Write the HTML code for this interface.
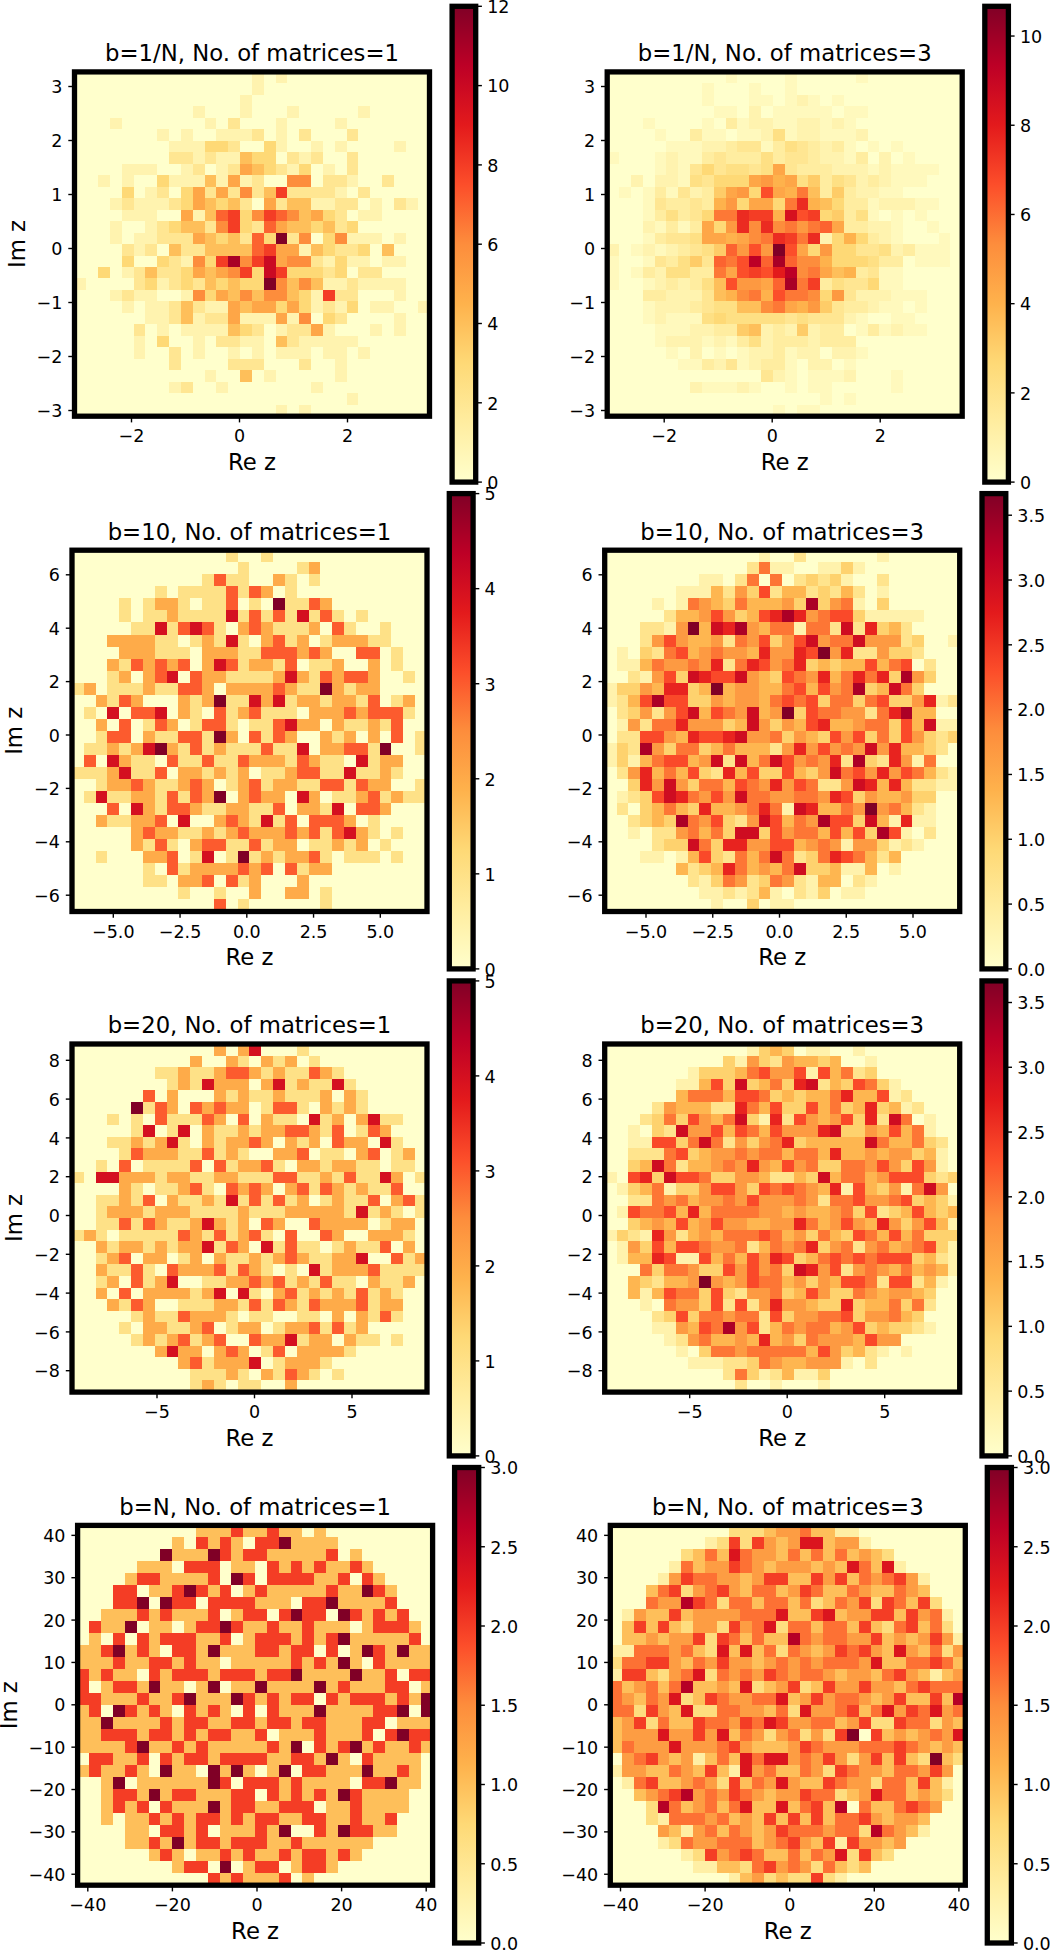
<!DOCTYPE html>
<html><head><meta charset="utf-8"><title>Eigenvalue density</title>
<style>html,body{margin:0;padding:0;background:#fff}svg{display:block}text{font-family:"DejaVu Sans","Liberation Sans",sans-serif;fill:#000}</style></head><body>
<svg width="1050" height="1950" viewBox="0 0 1050 1950">
<rect width="1050" height="1950" fill="#fff"/>
<defs><linearGradient id="g" x1="0" y1="1" x2="0" y2="0"><stop offset="0.000" stop-color="#ffffcc"/><stop offset="0.125" stop-color="#ffeda0"/><stop offset="0.250" stop-color="#fed976"/><stop offset="0.375" stop-color="#feb24c"/><stop offset="0.500" stop-color="#fd8d3c"/><stop offset="0.625" stop-color="#fc4e2a"/><stop offset="0.750" stop-color="#e31a1c"/><stop offset="0.875" stop-color="#bd0026"/><stop offset="1.000" stop-color="#800026"/></linearGradient></defs>
<g>
<rect x="74.50" y="71.90" width="355.00" height="344.30" fill="#ffffcc"/>
<g transform="translate(74.50 71.90) scale(11.8333 11.4767)" shape-rendering="crispEdges"><path fill="#fff3af" d="M15 0h1v1h-1zM17 0h1v1h-1zM15 1h1v1h-1zM14 2h1v1h-1zM10 3h1v1h-1zM14 3h1v1h-1zM18 3h1v1h-1zM24 3h1v1h-1zM3 4h1v1h-1zM11 4h1v1h-1zM17 4h1v1h-1zM22 4h1v1h-1zM7 5h1v1h-1zM9 5h1v1h-1zM12 5h3v1h-3zM17 5h1v1h-1zM8 6h3v1h-3zM17 6h1v1h-1zM20 6h1v1h-1zM22 6h1v1h-1zM27 6h1v1h-1zM10 7h1v1h-1zM12 7h2v1h-2zM19 7h1v1h-1zM4 8h3v1h-3zM9 8h1v1h-1zM12 8h1v1h-1zM18 8h1v1h-1zM21 8h1v1h-1zM2 9h1v1h-1zM4 9h1v1h-1zM8 9h3v1h-3zM12 9h1v1h-1zM14 9h1v1h-1zM23 9h1v1h-1zM6 10h1v1h-1zM22 10h1v1h-1zM3 11h1v1h-1zM5 11h3v1h-3zM20 11h2v1h-2zM25 11h1v1h-1zM28 11h1v1h-1zM4 12h3v1h-3zM10 12h1v1h-1zM24 12h2v1h-2zM3 13h1v1h-1zM6 13h1v1h-1zM3 14h1v1h-1zM5 14h2v1h-2zM23 14h3v1h-3zM27 14h1v1h-1zM5 15h1v1h-1zM19 15h1v1h-1zM9 16h1v1h-1zM21 16h1v1h-1zM23 16h2v1h-2zM26 16h2v1h-2zM4 17h1v1h-1zM0 18h1v1h-1zM7 18h1v1h-1zM21 18h2v1h-2zM24 18h4v1h-4zM3 19h1v1h-1zM5 19h2v1h-2zM9 19h1v1h-1zM20 19h1v1h-1zM27 19h1v1h-1zM4 20h1v1h-1zM6 20h2v1h-2zM11 20h2v1h-2zM20 20h1v1h-1zM22 20h1v1h-1zM25 20h2v1h-2zM29 20h1v1h-1zM6 21h2v1h-2zM10 21h1v1h-1zM14 21h3v1h-3zM18 21h1v1h-1zM27 21h1v1h-1zM7 22h1v1h-1zM9 22h4v1h-4zM17 22h1v1h-1zM21 22h1v1h-1zM25 22h1v1h-1zM27 22h1v1h-1zM5 23h1v1h-1zM10 23h1v1h-1zM14 23h2v1h-2zM19 23h5v1h-5zM5 24h1v1h-1zM10 24h1v1h-1zM13 24h1v1h-1zM15 24h1v1h-1zM17 24h3v1h-3zM21 24h2v1h-2zM24 24h1v1h-1zM22 25h1v1h-1zM11 26h1v1h-1zM16 26h1v1h-1zM22 26h1v1h-1zM8 27h1v1h-1zM12 27h1v1h-1zM20 27h1v1h-1zM23 28h1v1h-1zM17 29h1v1h-1zM19 29h1v1h-1z"/><path fill="#ffe692" d="M13 4h1v1h-1zM15 5h1v1h-1zM19 5h1v1h-1zM23 5h1v1h-1zM13 6h1v1h-1zM8 7h2v1h-2zM11 7h1v1h-1zM18 7h1v1h-1zM20 7h1v1h-1zM23 7h1v1h-1zM10 8h1v1h-1zM13 8h1v1h-1zM17 8h1v1h-1zM23 8h1v1h-1zM15 9h1v1h-1zM21 9h2v1h-2zM26 9h1v1h-1zM7 10h1v1h-1zM11 10h1v1h-1zM13 10h1v1h-1zM15 10h1v1h-1zM18 10h4v1h-4zM24 10h1v1h-1zM4 11h1v1h-1zM8 11h1v1h-1zM14 11h1v1h-1zM17 11h1v1h-1zM22 11h2v1h-2zM27 11h1v1h-1zM22 12h1v1h-1zM7 13h1v1h-1zM11 13h1v1h-1zM15 13h1v1h-1zM22 13h1v1h-1zM7 14h3v1h-3zM14 14h1v1h-1zM18 14h1v1h-1zM4 15h1v1h-1zM6 15h1v1h-1zM9 15h2v1h-2zM22 15h2v1h-2zM8 16h1v1h-1zM20 16h1v1h-1zM5 17h1v1h-1zM7 17h2v1h-2zM21 17h1v1h-1zM24 17h2v1h-2zM5 18h1v1h-1zM8 18h1v1h-1zM10 18h1v1h-1zM23 18h1v1h-1zM4 19h1v1h-1zM22 19h2v1h-2zM8 20h1v1h-1zM10 20h1v1h-1zM21 20h1v1h-1zM8 21h1v1h-1zM11 21h2v1h-2zM22 21h1v1h-1zM5 22h1v1h-1zM15 22h1v1h-1zM18 22h2v1h-2zM12 23h2v1h-2zM18 23h1v1h-1zM8 24h1v1h-1zM8 25h1v1h-1zM13 25h3v1h-3zM19 25h1v1h-1zM9 27h1v1h-1z"/><path fill="#fed976" d="M11 6h2v1h-2zM16 6h1v1h-1zM15 7h2v1h-2zM16 8h1v1h-1zM19 8h1v1h-1zM7 9h1v1h-1zM4 10h1v1h-1zM9 10h1v1h-1zM9 11h1v1h-1zM12 11h1v1h-1zM14 12h1v1h-1zM21 12h1v1h-1zM8 13h1v1h-1zM14 13h1v1h-1zM20 13h1v1h-1zM23 13h1v1h-1zM12 14h1v1h-1zM16 14h1v1h-1zM21 14h1v1h-1zM21 15h1v1h-1zM24 15h1v1h-1zM4 16h1v1h-1zM7 16h1v1h-1zM11 16h1v1h-1zM22 16h1v1h-1zM2 17h1v1h-1zM9 17h1v1h-1zM15 17h1v1h-1zM18 17h3v1h-3zM22 17h1v1h-1zM6 18h1v1h-1zM9 18h1v1h-1zM12 18h1v1h-1zM14 18h2v1h-2zM11 19h1v1h-1zM19 19h1v1h-1zM17 20h1v1h-1zM19 20h1v1h-1zM23 20h1v1h-1zM21 21h1v1h-1zM14 22h1v1h-1zM7 23h1v1h-1z"/><path fill="#febf5a" d="M14 7h1v1h-1zM15 8h1v1h-1zM11 9h1v1h-1zM16 10h1v1h-1zM11 11h1v1h-1zM13 11h1v1h-1zM18 11h2v1h-2zM11 12h1v1h-1zM19 12h1v1h-1zM9 13h2v1h-2zM18 13h2v1h-2zM21 13h1v1h-1zM11 14h1v1h-1zM13 14h1v1h-1zM8 15h1v1h-1zM11 15h4v1h-4zM20 15h1v1h-1zM26 15h1v1h-1zM6 17h1v1h-1zM11 17h1v1h-1zM11 18h1v1h-1zM13 18h1v1h-1zM18 18h1v1h-1zM20 18h1v1h-1zM13 19h1v1h-1zM15 19h1v1h-1zM18 19h1v1h-1zM9 20h1v1h-1zM14 20h1v1h-1zM9 21h1v1h-1zM13 22h1v1h-1zM17 23h1v1h-1zM14 26h1v1h-1z"/><path fill="#fea647" d="M14 8h1v1h-1zM13 9h1v1h-1zM10 10h1v1h-1zM12 10h1v1h-1zM10 11h1v1h-1zM16 11h1v1h-1zM9 12h1v1h-1zM20 12h1v1h-1zM17 13h1v1h-1zM10 14h1v1h-1zM17 15h2v1h-2zM17 16h1v1h-1zM10 17h1v1h-1zM12 17h1v1h-1zM12 19h1v1h-1zM13 20h1v1h-1zM15 20h2v1h-2zM18 20h1v1h-1zM13 21h1v1h-1zM17 21h1v1h-1zM20 22h1v1h-1z"/><path fill="#fd8d3c" d="M18 9h2v1h-2zM14 10h1v1h-1zM15 12h1v1h-1zM18 12h1v1h-1zM12 13h1v1h-1zM19 14h1v1h-1zM22 14h1v1h-1zM10 16h1v1h-1zM14 16h1v1h-1zM18 16h2v1h-2zM13 17h1v1h-1zM17 18h1v1h-1zM19 18h1v1h-1zM10 19h1v1h-1zM14 19h1v1h-1zM16 19h2v1h-2zM19 21h1v1h-1z"/><path fill="#fc6330" d="M12 12h1v1h-1zM17 12h1v1h-1zM16 13h1v1h-1zM15 14h1v1h-1zM15 15h1v1h-1z"/><path fill="#f43d25" d="M17 10h1v1h-1zM13 12h1v1h-1zM16 12h1v1h-1zM13 13h1v1h-1zM16 15h1v1h-1zM12 16h1v1h-1zM15 16h1v1h-1zM14 17h1v1h-1zM17 17h1v1h-1zM21 19h1v1h-1z"/><path fill="#ca0923" d="M16 16h1v1h-1zM16 17h1v1h-1z"/><path fill="#a90026" d="M13 16h1v1h-1z"/><path fill="#800026" d="M17 14h1v1h-1zM16 18h1v1h-1z"/></g>
<rect x="74.50" y="71.90" width="355.00" height="344.30" fill="none" stroke="#000" stroke-width="5.30"/>
<line x1="131.50" y1="416.20" x2="131.50" y2="422.40" stroke="#000" stroke-width="1.40"/><text x="131.50" y="442.20" font-size="17.50" text-anchor="middle">−2</text>
<line x1="239.50" y1="416.20" x2="239.50" y2="422.40" stroke="#000" stroke-width="1.40"/><text x="239.50" y="442.20" font-size="17.50" text-anchor="middle">0</text>
<line x1="347.50" y1="416.20" x2="347.50" y2="422.40" stroke="#000" stroke-width="1.40"/><text x="347.50" y="442.20" font-size="17.50" text-anchor="middle">2</text>
<line x1="68.30" y1="410.50" x2="74.50" y2="410.50" stroke="#000" stroke-width="1.40"/><text x="62.40" y="417.10" font-size="17.50" text-anchor="end">−3</text>
<line x1="68.30" y1="356.50" x2="74.50" y2="356.50" stroke="#000" stroke-width="1.40"/><text x="62.40" y="363.10" font-size="17.50" text-anchor="end">−2</text>
<line x1="68.30" y1="302.50" x2="74.50" y2="302.50" stroke="#000" stroke-width="1.40"/><text x="62.40" y="309.10" font-size="17.50" text-anchor="end">−1</text>
<line x1="68.30" y1="248.50" x2="74.50" y2="248.50" stroke="#000" stroke-width="1.40"/><text x="62.40" y="255.10" font-size="17.50" text-anchor="end">0</text>
<line x1="68.30" y1="194.50" x2="74.50" y2="194.50" stroke="#000" stroke-width="1.40"/><text x="62.40" y="201.10" font-size="17.50" text-anchor="end">1</text>
<line x1="68.30" y1="140.50" x2="74.50" y2="140.50" stroke="#000" stroke-width="1.40"/><text x="62.40" y="147.10" font-size="17.50" text-anchor="end">2</text>
<line x1="68.30" y1="86.50" x2="74.50" y2="86.50" stroke="#000" stroke-width="1.40"/><text x="62.40" y="93.10" font-size="17.50" text-anchor="end">3</text>
<text x="252.00" y="61.20" font-size="22.75" text-anchor="middle">b=1/N, No. of matrices=1</text>
<text x="252.00" y="469.70" font-size="22.75" text-anchor="middle">Re z</text>
<text transform="translate(24.50,244.05) rotate(-90)" font-size="22.75" text-anchor="middle">Im z</text>
<rect x="452.10" y="6.30" width="23.60" height="475.80" fill="url(#g)" stroke="#000" stroke-width="5.30"/>
<line x1="475.70" y1="482.10" x2="481.90" y2="482.10" stroke="#000" stroke-width="1.40"/><text x="487.20" y="488.90" font-size="17.50">0</text>
<line x1="475.70" y1="402.80" x2="481.90" y2="402.80" stroke="#000" stroke-width="1.40"/><text x="487.20" y="409.60" font-size="17.50">2</text>
<line x1="475.70" y1="323.50" x2="481.90" y2="323.50" stroke="#000" stroke-width="1.40"/><text x="487.20" y="330.30" font-size="17.50">4</text>
<line x1="475.70" y1="244.20" x2="481.90" y2="244.20" stroke="#000" stroke-width="1.40"/><text x="487.20" y="251.00" font-size="17.50">6</text>
<line x1="475.70" y1="164.90" x2="481.90" y2="164.90" stroke="#000" stroke-width="1.40"/><text x="487.20" y="171.70" font-size="17.50">8</text>
<line x1="475.70" y1="85.60" x2="481.90" y2="85.60" stroke="#000" stroke-width="1.40"/><text x="487.20" y="92.40" font-size="17.50">10</text>
<line x1="475.70" y1="6.30" x2="481.90" y2="6.30" stroke="#000" stroke-width="1.40"/><text x="487.20" y="13.10" font-size="17.50">12</text>
</g>
<g>
<rect x="607.20" y="71.90" width="355.00" height="344.30" fill="#ffffcc"/>
<g transform="translate(607.20 71.90) scale(11.8333 11.4767)" shape-rendering="crispEdges"><path fill="#fff9bd" d="M10 0h1v1h-1zM15 0h1v1h-1zM21 0h1v1h-1zM8 1h1v1h-1zM12 1h1v1h-1zM15 1h1v1h-1zM8 2h1v1h-1zM12 2h2v1h-2zM15 2h1v1h-1zM17 2h1v1h-1zM19 2h1v1h-1zM9 3h2v1h-2zM14 3h5v1h-5zM20 3h2v1h-2zM3 4h1v1h-1zM8 4h1v1h-1zM11 4h1v1h-1zM14 4h2v1h-2zM18 4h1v1h-1zM20 4h1v1h-1zM4 5h1v1h-1zM8 5h2v1h-2zM11 5h2v1h-2zM15 5h1v1h-1zM18 5h3v1h-3zM5 6h3v1h-3zM13 6h1v1h-1zM20 6h1v1h-1zM22 6h1v1h-1zM24 6h1v1h-1zM0 7h1v1h-1zM4 7h1v1h-1zM6 7h2v1h-2zM20 7h1v1h-1zM25 7h1v1h-1zM4 8h1v1h-1zM6 8h1v1h-1zM22 8h1v1h-1zM24 8h4v1h-4zM6 9h1v1h-1zM24 9h3v1h-3zM1 10h1v1h-1zM3 10h1v1h-1zM5 10h1v1h-1zM23 10h2v1h-2zM3 11h1v1h-1zM22 11h1v1h-1zM26 11h2v1h-2zM3 12h1v1h-1zM22 12h1v1h-1zM24 12h1v1h-1zM26 12h1v1h-1zM4 13h1v1h-1zM6 13h1v1h-1zM24 13h1v1h-1zM27 13h1v1h-1zM3 14h1v1h-1zM24 14h1v1h-1zM28 14h1v1h-1zM2 15h1v1h-1zM4 15h1v1h-1zM26 15h3v1h-3zM0 16h1v1h-1zM3 16h1v1h-1zM26 16h3v1h-3zM0 17h1v1h-1zM2 17h1v1h-1zM23 17h2v1h-2zM0 18h1v1h-1zM3 18h1v1h-1zM23 18h2v1h-2zM24 19h3v1h-3zM3 20h1v1h-1zM23 20h2v1h-2zM26 20h1v1h-1zM3 21h1v1h-1zM5 21h3v1h-3zM21 21h1v1h-1zM24 21h2v1h-2zM4 22h3v1h-3zM21 22h1v1h-1zM23 22h1v1h-1zM25 22h2v1h-2zM4 23h1v1h-1zM8 23h1v1h-1zM10 23h1v1h-1zM5 24h1v1h-1zM9 24h1v1h-1zM11 24h1v1h-1zM15 24h1v1h-1zM21 24h1v1h-1zM6 25h2v1h-2zM11 25h1v1h-1zM15 25h1v1h-1zM20 25h1v1h-1zM15 26h1v1h-1zM17 26h3v1h-3zM24 26h1v1h-1zM8 27h3v1h-3zM12 27h1v1h-1zM15 27h1v1h-1zM17 27h2v1h-2zM24 27h1v1h-1zM18 28h1v1h-1zM20 28h1v1h-1zM14 29h1v1h-1zM16 29h2v1h-2z"/><path fill="#fff3af" d="M16 2h1v1h-1zM12 3h1v1h-1zM12 4h2v1h-2zM16 4h2v1h-2zM19 4h1v1h-1zM13 5h1v1h-1zM16 5h2v1h-2zM21 5h1v1h-1zM8 6h2v1h-2zM18 6h1v1h-1zM5 7h1v1h-1zM18 7h2v1h-2zM23 7h1v1h-1zM5 8h1v1h-1zM19 8h3v1h-3zM23 8h1v1h-1zM2 9h1v1h-1zM4 9h2v1h-2zM21 9h1v1h-1zM23 9h1v1h-1zM7 10h1v1h-1zM21 10h2v1h-2zM23 11h3v1h-3zM3 13h1v1h-1zM22 13h2v1h-2zM18 14h1v1h-1zM23 14h1v1h-1zM0 15h1v1h-1zM3 15h1v1h-1zM5 15h1v1h-1zM24 15h1v1h-1zM4 17h1v1h-1zM4 18h1v1h-1zM6 18h1v1h-1zM5 19h3v1h-3zM21 19h3v1h-3zM4 20h3v1h-3zM22 20h1v1h-1zM4 21h1v1h-1zM20 21h1v1h-1zM7 22h2v1h-2zM13 22h1v1h-1zM15 22h1v1h-1zM17 22h1v1h-1zM24 22h1v1h-1zM5 23h3v1h-3zM9 23h1v1h-1zM13 23h1v1h-1zM17 23h1v1h-1zM7 24h1v1h-1zM12 24h2v1h-2zM16 24h2v1h-2zM19 24h2v1h-2zM9 25h1v1h-1zM12 25h1v1h-1zM17 25h2v1h-2zM14 26h1v1h-1zM20 26h1v1h-1zM7 27h1v1h-1zM11 27h1v1h-1z"/><path fill="#ffeda0" d="M10 4h1v1h-1zM7 5h1v1h-1zM10 6h1v1h-1zM14 6h1v1h-1zM17 6h1v1h-1zM19 6h1v1h-1zM8 7h1v1h-1zM10 7h3v1h-3zM14 7h1v1h-1zM17 7h1v1h-1zM21 7h1v1h-1zM16 8h3v1h-3zM18 9h1v1h-1zM22 9h1v1h-1zM4 10h1v1h-1zM8 10h1v1h-1zM18 10h1v1h-1zM20 10h1v1h-1zM5 11h2v1h-2zM8 11h1v1h-1zM20 11h2v1h-2zM4 12h1v1h-1zM6 12h1v1h-1zM20 12h1v1h-1zM5 13h1v1h-1zM7 13h1v1h-1zM20 13h2v1h-2zM4 14h1v1h-1zM22 14h1v1h-1zM6 15h1v1h-1zM25 15h1v1h-1zM5 16h1v1h-1zM23 16h2v1h-2zM3 17h1v1h-1zM7 17h2v1h-2zM21 17h1v1h-1zM5 18h1v1h-1zM7 18h1v1h-1zM18 18h1v1h-1zM3 19h2v1h-2zM7 20h1v1h-1zM20 20h2v1h-2zM9 22h2v1h-2zM14 22h1v1h-1zM18 22h2v1h-2zM22 22h1v1h-1zM11 23h1v1h-1zM14 23h3v1h-3zM18 23h3v1h-3zM14 24h1v1h-1zM8 25h1v1h-1zM13 25h2v1h-2z"/><path fill="#ffe692" d="M11 6h2v1h-2zM16 6h1v1h-1zM9 7h1v1h-1zM15 7h2v1h-2zM7 8h1v1h-1zM9 8h1v1h-1zM12 8h1v1h-1zM15 8h1v1h-1zM8 9h1v1h-1zM20 9h1v1h-1zM6 10h1v1h-1zM4 11h1v1h-1zM7 11h1v1h-1zM7 12h1v1h-1zM5 14h2v1h-2zM7 15h1v1h-1zM21 15h2v1h-2zM4 16h1v1h-1zM8 16h1v1h-1zM22 17h1v1h-1zM20 18h2v1h-2zM8 19h1v1h-1zM20 19h1v1h-1zM8 20h1v1h-1zM19 20h1v1h-1zM15 21h1v1h-1zM17 21h3v1h-3zM10 25h1v1h-1zM13 26h1v1h-1z"/><path fill="#fee084" d="M14 5h1v1h-1zM15 6h1v1h-1zM13 7h1v1h-1zM10 8h2v1h-2zM13 8h1v1h-1zM7 9h1v1h-1zM16 9h1v1h-1zM19 9h1v1h-1zM5 12h1v1h-1zM21 12h1v1h-1zM7 14h1v1h-1zM8 15h1v1h-1zM23 15h1v1h-1zM6 16h1v1h-1zM22 16h1v1h-1zM5 17h2v1h-2zM8 18h1v1h-1zM19 18h1v1h-1zM9 20h2v1h-2zM8 21h1v1h-1zM10 21h5v1h-5zM16 21h1v1h-1zM12 23h1v1h-1z"/><path fill="#fed976" d="M8 8h1v1h-1zM9 9h3v1h-3zM12 10h1v1h-1zM11 11h1v1h-1zM14 11h1v1h-1zM19 11h1v1h-1zM8 12h1v1h-1zM18 12h1v1h-1zM9 13h1v1h-1zM19 14h1v1h-1zM21 14h1v1h-1zM17 15h1v1h-1zM19 15h2v1h-2zM19 16h3v1h-3zM22 18h1v1h-1zM18 19h1v1h-1zM9 21h1v1h-1z"/><path fill="#fecc68" d="M17 9h1v1h-1zM9 10h1v1h-1zM19 10h1v1h-1zM19 12h1v1h-1zM9 15h1v1h-1zM7 16h1v1h-1zM18 20h1v1h-1zM11 22h1v1h-1zM16 22h1v1h-1z"/><path fill="#febf5a" d="M17 10h1v1h-1zM18 11h1v1h-1zM19 17h1v1h-1zM9 18h1v1h-1zM9 19h1v1h-1zM11 20h2v1h-2zM12 22h1v1h-1z"/><path fill="#feb24c" d="M14 9h1v1h-1zM15 10h1v1h-1zM9 11h1v1h-1zM17 11h1v1h-1zM14 12h1v1h-1zM10 14h1v1h-1zM20 14h1v1h-1zM18 16h1v1h-1zM20 17h1v1h-1zM10 19h1v1h-1zM13 19h1v1h-1zM16 20h1v1h-1z"/><path fill="#fea647" d="M14 8h1v1h-1zM12 9h1v1h-1zM15 9h1v1h-1zM10 10h1v1h-1zM14 10h1v1h-1zM12 11h2v1h-2zM8 13h1v1h-1zM19 13h1v1h-1zM8 14h2v1h-2zM11 14h1v1h-1zM16 15h1v1h-1zM10 17h1v1h-1zM18 17h1v1h-1zM13 18h1v1h-1zM15 20h1v1h-1z"/><path fill="#fd9941" d="M13 9h1v1h-1zM11 10h1v1h-1zM10 11h1v1h-1zM10 13h1v1h-1zM16 13h1v1h-1zM11 15h1v1h-1zM13 15h1v1h-1zM18 15h1v1h-1zM11 18h2v1h-2zM19 19h1v1h-1zM17 20h1v1h-1z"/><path fill="#fd8d3c" d="M12 13h1v1h-1zM14 13h1v1h-1zM12 14h1v1h-1zM16 16h2v1h-2zM16 17h1v1h-1zM11 19h1v1h-1zM17 19h1v1h-1zM13 20h1v1h-1z"/><path fill="#fd7836" d="M16 10h1v1h-1zM15 11h1v1h-1zM9 12h2v1h-2zM15 13h1v1h-1zM17 13h1v1h-1zM13 14h1v1h-1zM16 14h1v1h-1zM10 16h1v1h-1zM9 17h1v1h-1zM17 17h1v1h-1zM16 18h1v1h-1zM12 19h1v1h-1zM15 19h2v1h-2zM14 20h1v1h-1z"/><path fill="#fc6330" d="M18 13h1v1h-1zM10 15h1v1h-1zM9 16h1v1h-1zM13 16h1v1h-1zM15 16h1v1h-1zM14 18h1v1h-1z"/><path fill="#fc4e2a" d="M13 10h1v1h-1zM16 12h1v1h-1zM12 15h1v1h-1zM15 15h1v1h-1zM11 16h1v1h-1zM11 17h1v1h-1zM13 17h1v1h-1zM10 18h1v1h-1zM14 19h1v1h-1z"/><path fill="#f43d25" d="M12 12h2v1h-2zM17 12h1v1h-1zM15 14h1v1h-1zM12 17h1v1h-1zM17 18h1v1h-1z"/><path fill="#eb2b21" d="M16 11h1v1h-1zM11 12h1v1h-1zM11 13h1v1h-1zM13 13h1v1h-1zM14 14h1v1h-1zM17 14h1v1h-1z"/><path fill="#e31a1c" d="M14 17h1v1h-1z"/><path fill="#d6111f" d="M15 12h1v1h-1z"/><path fill="#bd0026" d="M12 16h1v1h-1zM15 17h1v1h-1z"/><path fill="#a90026" d="M14 16h1v1h-1zM15 18h1v1h-1z"/><path fill="#800026" d="M14 15h1v1h-1z"/></g>
<rect x="607.20" y="71.90" width="355.00" height="344.30" fill="none" stroke="#000" stroke-width="5.30"/>
<line x1="664.20" y1="416.20" x2="664.20" y2="422.40" stroke="#000" stroke-width="1.40"/><text x="664.20" y="442.20" font-size="17.50" text-anchor="middle">−2</text>
<line x1="772.20" y1="416.20" x2="772.20" y2="422.40" stroke="#000" stroke-width="1.40"/><text x="772.20" y="442.20" font-size="17.50" text-anchor="middle">0</text>
<line x1="880.20" y1="416.20" x2="880.20" y2="422.40" stroke="#000" stroke-width="1.40"/><text x="880.20" y="442.20" font-size="17.50" text-anchor="middle">2</text>
<line x1="601.00" y1="410.50" x2="607.20" y2="410.50" stroke="#000" stroke-width="1.40"/><text x="595.10" y="417.10" font-size="17.50" text-anchor="end">−3</text>
<line x1="601.00" y1="356.50" x2="607.20" y2="356.50" stroke="#000" stroke-width="1.40"/><text x="595.10" y="363.10" font-size="17.50" text-anchor="end">−2</text>
<line x1="601.00" y1="302.50" x2="607.20" y2="302.50" stroke="#000" stroke-width="1.40"/><text x="595.10" y="309.10" font-size="17.50" text-anchor="end">−1</text>
<line x1="601.00" y1="248.50" x2="607.20" y2="248.50" stroke="#000" stroke-width="1.40"/><text x="595.10" y="255.10" font-size="17.50" text-anchor="end">0</text>
<line x1="601.00" y1="194.50" x2="607.20" y2="194.50" stroke="#000" stroke-width="1.40"/><text x="595.10" y="201.10" font-size="17.50" text-anchor="end">1</text>
<line x1="601.00" y1="140.50" x2="607.20" y2="140.50" stroke="#000" stroke-width="1.40"/><text x="595.10" y="147.10" font-size="17.50" text-anchor="end">2</text>
<line x1="601.00" y1="86.50" x2="607.20" y2="86.50" stroke="#000" stroke-width="1.40"/><text x="595.10" y="93.10" font-size="17.50" text-anchor="end">3</text>
<text x="784.70" y="61.20" font-size="22.75" text-anchor="middle">b=1/N, No. of matrices=3</text>
<text x="784.70" y="469.70" font-size="22.75" text-anchor="middle">Re z</text>
<rect x="984.80" y="6.30" width="23.60" height="475.80" fill="url(#g)" stroke="#000" stroke-width="5.30"/>
<line x1="1008.40" y1="482.10" x2="1014.60" y2="482.10" stroke="#000" stroke-width="1.40"/><text x="1019.90" y="488.90" font-size="17.50">0</text>
<line x1="1008.40" y1="392.89" x2="1014.60" y2="392.89" stroke="#000" stroke-width="1.40"/><text x="1019.90" y="399.69" font-size="17.50">2</text>
<line x1="1008.40" y1="303.68" x2="1014.60" y2="303.68" stroke="#000" stroke-width="1.40"/><text x="1019.90" y="310.48" font-size="17.50">4</text>
<line x1="1008.40" y1="214.46" x2="1014.60" y2="214.46" stroke="#000" stroke-width="1.40"/><text x="1019.90" y="221.26" font-size="17.50">6</text>
<line x1="1008.40" y1="125.25" x2="1014.60" y2="125.25" stroke="#000" stroke-width="1.40"/><text x="1019.90" y="132.05" font-size="17.50">8</text>
<line x1="1008.40" y1="36.04" x2="1014.60" y2="36.04" stroke="#000" stroke-width="1.40"/><text x="1019.90" y="42.84" font-size="17.50">10</text>
</g>
<g>
<rect x="72.00" y="550.20" width="355.00" height="361.30" fill="#ffffcc"/>
<g transform="translate(72.00 550.20) scale(11.8333 12.0433)" shape-rendering="crispEdges"><path fill="#fee187" d="M13 0h1v1h-1zM16 0h1v1h-1zM14 1h1v1h-1zM19 1h1v1h-1zM11 2h1v1h-1zM13 2h2v1h-2zM18 2h1v1h-1zM20 2h1v1h-1zM7 3h1v1h-1zM9 3h4v1h-4zM14 3h1v1h-1zM18 3h1v1h-1zM4 4h1v1h-1zM6 4h1v1h-1zM9 4h1v1h-1zM11 4h2v1h-2zM15 4h1v1h-1zM18 4h2v1h-2zM4 5h1v1h-1zM6 5h2v1h-2zM9 5h4v1h-4zM14 5h1v1h-1zM16 5h1v1h-1zM18 5h1v1h-1zM20 5h1v1h-1zM22 5h1v1h-1zM24 5h1v1h-1zM5 6h2v1h-2zM8 6h1v1h-1zM12 6h1v1h-1zM17 6h3v1h-3zM23 6h1v1h-1zM26 6h1v1h-1zM7 7h2v1h-2zM10 7h1v1h-1zM12 7h1v1h-1zM14 7h1v1h-1zM18 7h1v1h-1zM21 7h1v1h-1zM25 7h2v1h-2zM7 8h3v1h-3zM14 8h2v1h-2zM27 8h1v1h-1zM4 9h1v1h-1zM14 9h1v1h-1zM17 9h1v1h-1zM20 9h2v1h-2zM27 9h1v1h-1zM3 10h1v1h-1zM13 10h4v1h-4zM20 10h1v1h-1zM28 10h1v1h-1zM0 11h1v1h-1zM3 11h3v1h-3zM7 11h2v1h-2zM19 11h2v1h-2zM23 11h1v1h-1zM3 12h1v1h-1zM10 12h1v1h-1zM13 12h2v1h-2zM18 12h1v1h-1zM21 12h1v1h-1zM24 12h1v1h-1zM27 12h1v1h-1zM1 13h1v1h-1zM10 13h1v1h-1zM13 13h1v1h-1zM16 13h3v1h-3zM28 13h1v1h-1zM6 14h1v1h-1zM10 14h1v1h-1zM13 14h1v1h-1zM15 14h2v1h-2zM23 14h2v1h-2zM26 14h1v1h-1zM2 15h1v1h-1zM7 15h2v1h-2zM11 15h1v1h-1zM16 15h1v1h-1zM22 15h1v1h-1zM29 15h1v1h-1zM1 16h2v1h-2zM4 16h1v1h-1zM9 16h1v1h-1zM11 16h1v1h-1zM13 16h3v1h-3zM17 16h2v1h-2zM25 16h1v1h-1zM29 16h1v1h-1zM5 17h2v1h-2zM9 17h2v1h-2zM12 17h2v1h-2zM18 17h1v1h-1zM21 17h2v1h-2zM25 17h1v1h-1zM0 18h3v1h-3zM5 18h2v1h-2zM11 18h1v1h-1zM13 18h1v1h-1zM16 18h2v1h-2zM21 18h2v1h-2zM24 18h2v1h-2zM27 18h1v1h-1zM2 19h1v1h-1zM7 19h2v1h-2zM13 19h1v1h-1zM16 19h1v1h-1zM19 19h2v1h-2zM23 19h1v1h-1zM29 19h1v1h-1zM1 20h1v1h-1zM3 20h2v1h-2zM7 20h1v1h-1zM9 20h1v1h-1zM22 20h2v1h-2zM26 20h1v1h-1zM28 20h2v1h-2zM7 21h1v1h-1zM11 21h2v1h-2zM15 21h2v1h-2zM21 21h1v1h-1zM3 22h2v1h-2zM15 22h1v1h-1zM17 22h1v1h-1zM25 22h1v1h-1zM9 23h2v1h-2zM12 23h1v1h-1zM21 23h1v1h-1zM25 23h1v1h-1zM27 23h1v1h-1zM6 24h1v1h-1zM8 24h1v1h-1zM13 24h2v1h-2zM16 24h1v1h-1zM20 24h2v1h-2zM23 24h1v1h-1zM26 24h1v1h-1zM2 25h1v1h-1zM10 25h1v1h-1zM13 25h1v1h-1zM15 25h1v1h-1zM17 25h1v1h-1zM21 25h1v1h-1zM23 25h3v1h-3zM27 25h1v1h-1zM6 26h1v1h-1zM9 26h1v1h-1zM19 26h1v1h-1zM6 27h2v1h-2zM14 27h1v1h-1zM9 28h1v1h-1zM12 28h1v1h-1zM21 28h1v1h-1zM14 29h1v1h-1zM21 29h1v1h-1z"/><path fill="#feab49" d="M20 1h1v1h-1zM17 2h1v1h-1zM16 3h1v1h-1zM7 4h2v1h-2zM21 4h1v1h-1zM8 5h1v1h-1zM14 6h1v1h-1zM16 6h1v1h-1zM20 6h1v1h-1zM3 7h4v1h-4zM11 7h1v1h-1zM16 7h1v1h-1zM19 7h1v1h-1zM22 7h3v1h-3zM4 8h3v1h-3zM11 8h3v1h-3zM19 8h1v1h-1zM21 8h1v1h-1zM3 9h1v1h-1zM6 9h1v1h-1zM8 9h1v1h-1zM11 9h1v1h-1zM15 9h2v1h-2zM22 9h1v1h-1zM25 9h1v1h-1zM4 10h1v1h-1zM6 10h1v1h-1zM11 10h2v1h-2zM17 10h1v1h-1zM19 10h1v1h-1zM22 10h1v1h-1zM25 10h1v1h-1zM1 11h1v1h-1zM6 11h1v1h-1zM11 11h1v1h-1zM13 11h4v1h-4zM18 11h1v1h-1zM22 11h1v1h-1zM24 11h2v1h-2zM2 12h1v1h-1zM5 12h1v1h-1zM9 12h1v1h-1zM11 12h1v1h-1zM16 12h1v1h-1zM19 12h2v1h-2zM22 12h2v1h-2zM28 12h1v1h-1zM9 13h1v1h-1zM14 13h1v1h-1zM20 13h3v1h-3zM24 13h1v1h-1zM2 14h1v1h-1zM8 14h1v1h-1zM19 14h2v1h-2zM22 14h1v1h-1zM25 14h1v1h-1zM6 15h1v1h-1zM13 15h1v1h-1zM18 15h1v1h-1zM21 15h1v1h-1zM23 15h1v1h-1zM25 15h1v1h-1zM3 16h1v1h-1zM5 16h1v1h-1zM8 16h1v1h-1zM12 16h1v1h-1zM21 16h2v1h-2zM4 17h1v1h-1zM15 17h3v1h-3zM20 17h1v1h-1zM26 17h2v1h-2zM3 18h1v1h-1zM9 18h2v1h-2zM12 18h1v1h-1zM14 18h1v1h-1zM18 18h1v1h-1zM26 18h1v1h-1zM3 19h2v1h-2zM6 19h1v1h-1zM9 19h1v1h-1zM11 19h1v1h-1zM14 19h1v1h-1zM17 19h2v1h-2zM25 19h2v1h-2zM5 20h2v1h-2zM11 20h1v1h-1zM14 20h1v1h-1zM16 20h2v1h-2zM20 20h1v1h-1zM24 20h1v1h-1zM27 20h1v1h-1zM6 21h1v1h-1zM10 21h1v1h-1zM13 21h2v1h-2zM19 21h2v1h-2zM26 21h1v1h-1zM2 22h1v1h-1zM5 22h2v1h-2zM12 22h1v1h-1zM14 22h1v1h-1zM23 22h1v1h-1zM5 23h1v1h-1zM7 23h2v1h-2zM11 23h1v1h-1zM13 23h1v1h-1zM15 23h3v1h-3zM19 23h1v1h-1zM24 23h1v1h-1zM5 24h1v1h-1zM10 24h1v1h-1zM17 24h2v1h-2zM22 24h1v1h-1zM24 24h1v1h-1zM6 25h2v1h-2zM16 25h1v1h-1zM18 25h2v1h-2zM10 26h4v1h-4zM15 26h1v1h-1zM20 26h2v1h-2zM9 27h2v1h-2zM15 27h1v1h-1zM19 27h1v1h-1zM15 28h1v1h-1zM18 28h2v1h-2z"/><path fill="#fc5b2e" d="M12 2h1v1h-1zM13 3h1v1h-1zM15 3h1v1h-1zM13 4h1v1h-1zM20 4h1v1h-1zM15 5h1v1h-1zM17 5h1v1h-1zM21 5h1v1h-1zM9 6h1v1h-1zM11 6h1v1h-1zM15 6h1v1h-1zM22 6h1v1h-1zM17 7h1v1h-1zM16 8h3v1h-3zM20 8h1v1h-1zM24 8h2v1h-2zM5 9h1v1h-1zM7 9h1v1h-1zM9 9h1v1h-1zM13 9h1v1h-1zM18 9h1v1h-1zM7 10h1v1h-1zM10 10h1v1h-1zM21 10h1v1h-1zM23 10h2v1h-2zM9 11h2v1h-2zM17 11h1v1h-1zM4 12h1v1h-1zM25 12h1v1h-1zM5 13h2v1h-2zM12 13h1v1h-1zM15 13h1v1h-1zM23 13h1v1h-1zM25 13h3v1h-3zM4 14h1v1h-1zM7 14h1v1h-1zM11 14h2v1h-2zM17 14h1v1h-1zM27 14h1v1h-1zM3 15h2v1h-2zM9 15h2v1h-2zM15 15h1v1h-1zM17 15h1v1h-1zM27 15h1v1h-1zM10 16h1v1h-1zM16 16h1v1h-1zM23 16h2v1h-2zM1 17h1v1h-1zM8 17h1v1h-1zM11 17h1v1h-1zM14 17h1v1h-1zM19 17h1v1h-1zM7 18h1v1h-1zM19 18h2v1h-2zM5 19h1v1h-1zM10 19h1v1h-1zM15 19h1v1h-1zM21 19h2v1h-2zM24 19h1v1h-1zM8 20h1v1h-1zM10 20h1v1h-1zM15 20h1v1h-1zM25 20h1v1h-1zM3 21h1v1h-1zM8 21h2v1h-2zM17 21h1v1h-1zM24 21h2v1h-2zM7 22h1v1h-1zM13 22h1v1h-1zM18 22h1v1h-1zM20 22h3v1h-3zM6 23h1v1h-1zM14 23h1v1h-1zM18 23h1v1h-1zM20 23h1v1h-1zM22 23h1v1h-1zM7 24h1v1h-1zM11 24h2v1h-2zM15 24h1v1h-1zM8 25h1v1h-1zM20 25h1v1h-1zM8 26h1v1h-1zM14 26h1v1h-1zM16 26h1v1h-1zM18 26h1v1h-1zM11 27h1v1h-1zM13 27h1v1h-1zM12 29h1v1h-1z"/><path fill="#d41020" d="M13 5h1v1h-1zM19 5h1v1h-1zM7 6h1v1h-1zM10 6h1v1h-1zM13 7h1v1h-1zM12 9h1v1h-1zM8 10h1v1h-1zM18 10h1v1h-1zM15 12h1v1h-1zM17 12h1v1h-1zM3 13h1v1h-1zM7 13h1v1h-1zM18 14h1v1h-1zM6 16h1v1h-1zM19 16h1v1h-1zM3 17h1v1h-1zM24 17h1v1h-1zM4 18h1v1h-1zM23 18h1v1h-1zM2 20h1v1h-1zM19 20h1v1h-1zM5 21h1v1h-1zM22 21h1v1h-1zM9 22h1v1h-1zM16 22h1v1h-1zM23 23h1v1h-1zM11 25h1v1h-1z"/><path fill="#800026" d="M17 4h1v1h-1zM21 11h1v1h-1zM12 12h1v1h-1zM12 15h1v1h-1zM7 16h1v1h-1zM26 16h1v1h-1zM12 20h1v1h-1zM14 25h1v1h-1z"/></g>
<rect x="72.00" y="550.20" width="355.00" height="361.30" fill="none" stroke="#000" stroke-width="5.30"/>
<line x1="113.30" y1="911.50" x2="113.30" y2="917.70" stroke="#000" stroke-width="1.40"/><text x="113.30" y="937.50" font-size="17.50" text-anchor="middle">−5.0</text>
<line x1="180.05" y1="911.50" x2="180.05" y2="917.70" stroke="#000" stroke-width="1.40"/><text x="180.05" y="937.50" font-size="17.50" text-anchor="middle">−2.5</text>
<line x1="246.80" y1="911.50" x2="246.80" y2="917.70" stroke="#000" stroke-width="1.40"/><text x="246.80" y="937.50" font-size="17.50" text-anchor="middle">0.0</text>
<line x1="313.55" y1="911.50" x2="313.55" y2="917.70" stroke="#000" stroke-width="1.40"/><text x="313.55" y="937.50" font-size="17.50" text-anchor="middle">2.5</text>
<line x1="380.30" y1="911.50" x2="380.30" y2="917.70" stroke="#000" stroke-width="1.40"/><text x="380.30" y="937.50" font-size="17.50" text-anchor="middle">5.0</text>
<line x1="65.80" y1="895.20" x2="72.00" y2="895.20" stroke="#000" stroke-width="1.40"/><text x="59.90" y="901.80" font-size="17.50" text-anchor="end">−6</text>
<line x1="65.80" y1="841.80" x2="72.00" y2="841.80" stroke="#000" stroke-width="1.40"/><text x="59.90" y="848.40" font-size="17.50" text-anchor="end">−4</text>
<line x1="65.80" y1="788.40" x2="72.00" y2="788.40" stroke="#000" stroke-width="1.40"/><text x="59.90" y="795.00" font-size="17.50" text-anchor="end">−2</text>
<line x1="65.80" y1="735.00" x2="72.00" y2="735.00" stroke="#000" stroke-width="1.40"/><text x="59.90" y="741.60" font-size="17.50" text-anchor="end">0</text>
<line x1="65.80" y1="681.60" x2="72.00" y2="681.60" stroke="#000" stroke-width="1.40"/><text x="59.90" y="688.20" font-size="17.50" text-anchor="end">2</text>
<line x1="65.80" y1="628.20" x2="72.00" y2="628.20" stroke="#000" stroke-width="1.40"/><text x="59.90" y="634.80" font-size="17.50" text-anchor="end">4</text>
<line x1="65.80" y1="574.80" x2="72.00" y2="574.80" stroke="#000" stroke-width="1.40"/><text x="59.90" y="581.40" font-size="17.50" text-anchor="end">6</text>
<text x="249.50" y="539.50" font-size="22.75" text-anchor="middle">b=10, No. of matrices=1</text>
<text x="249.50" y="965.00" font-size="22.75" text-anchor="middle">Re z</text>
<text transform="translate(21.70,730.85) rotate(-90)" font-size="22.75" text-anchor="middle">Im z</text>
<rect x="449.30" y="493.60" width="23.80" height="475.30" fill="url(#g)" stroke="#000" stroke-width="5.30"/>
<line x1="473.10" y1="968.90" x2="479.30" y2="968.90" stroke="#000" stroke-width="1.40"/><text x="484.60" y="975.70" font-size="17.50">0</text>
<line x1="473.10" y1="873.84" x2="479.30" y2="873.84" stroke="#000" stroke-width="1.40"/><text x="484.60" y="880.64" font-size="17.50">1</text>
<line x1="473.10" y1="778.78" x2="479.30" y2="778.78" stroke="#000" stroke-width="1.40"/><text x="484.60" y="785.58" font-size="17.50">2</text>
<line x1="473.10" y1="683.72" x2="479.30" y2="683.72" stroke="#000" stroke-width="1.40"/><text x="484.60" y="690.52" font-size="17.50">3</text>
<line x1="473.10" y1="588.66" x2="479.30" y2="588.66" stroke="#000" stroke-width="1.40"/><text x="484.60" y="595.46" font-size="17.50">4</text>
<line x1="473.10" y1="493.60" x2="479.30" y2="493.60" stroke="#000" stroke-width="1.40"/><text x="484.60" y="500.40" font-size="17.50">5</text>
</g>
<g>
<rect x="604.70" y="550.20" width="355.00" height="361.30" fill="#ffffcc"/>
<g transform="translate(604.70 550.20) scale(11.8333 12.0433)" shape-rendering="crispEdges"><path fill="#fff2ac" d="M13 0h1v1h-1zM23 0h1v1h-1zM14 1h2v1h-2zM18 1h2v1h-2zM21 1h1v1h-1zM8 2h2v1h-2zM20 2h1v1h-1zM6 3h3v1h-3zM23 3h1v1h-1zM4 4h1v1h-1zM6 4h1v1h-1zM21 4h1v1h-1zM22 5h5v1h-5zM5 6h1v1h-1zM16 6h1v1h-1zM29 7h1v1h-1zM1 8h1v1h-1zM1 9h2v1h-2zM3 10h1v1h-1zM0 11h1v1h-1zM0 12h1v1h-1zM28 12h1v1h-1zM1 14h1v1h-1zM28 14h2v1h-2zM0 16h1v1h-1zM0 17h1v1h-1zM2 17h1v1h-1zM26 17h1v1h-1zM29 18h1v1h-1zM28 19h2v1h-2zM1 20h1v1h-1zM15 21h1v1h-1zM27 21h1v1h-1zM24 22h1v1h-1zM26 22h2v1h-2zM2 23h1v1h-1zM25 23h1v1h-1zM20 24h1v1h-1zM24 24h1v1h-1zM26 24h1v1h-1zM3 25h2v1h-2zM6 25h1v1h-1zM20 26h2v1h-2zM24 26h1v1h-1zM8 27h1v1h-1zM17 27h1v1h-1zM22 27h1v1h-1zM8 28h2v1h-2zM11 28h1v1h-1zM14 28h1v1h-1zM17 28h1v1h-1zM20 28h2v1h-2zM9 29h1v1h-1zM14 29h2v1h-2z"/><path fill="#ffe48d" d="M16 0h1v1h-1zM12 1h1v1h-1zM11 2h1v1h-1zM16 2h1v1h-1zM18 2h1v1h-1zM23 2h1v1h-1zM10 3h1v1h-1zM14 3h1v1h-1zM17 3h1v1h-1zM19 3h1v1h-1zM21 3h1v1h-1zM5 5h1v1h-1zM3 6h2v1h-2zM19 6h1v1h-1zM21 6h1v1h-1zM25 6h1v1h-1zM3 7h1v1h-1zM10 7h1v1h-1zM25 7h1v1h-1zM4 8h1v1h-1zM21 8h2v1h-2zM26 8h1v1h-1zM10 9h1v1h-1zM27 9h1v1h-1zM2 10h1v1h-1zM1 12h1v1h-1zM29 12h1v1h-1zM1 13h1v1h-1zM4 13h1v1h-1zM22 13h1v1h-1zM3 14h1v1h-1zM1 15h2v1h-2zM28 15h1v1h-1zM2 16h1v1h-1zM14 16h1v1h-1zM28 16h1v1h-1zM10 17h1v1h-1zM20 17h1v1h-1zM23 17h1v1h-1zM1 18h1v1h-1zM9 18h1v1h-1zM28 18h1v1h-1zM18 19h2v1h-2zM26 19h2v1h-2zM2 20h1v1h-1zM1 21h1v1h-1zM26 21h1v1h-1zM2 22h1v1h-1zM11 22h1v1h-1zM4 23h2v1h-2zM27 23h1v1h-1zM4 24h1v1h-1zM25 24h1v1h-1zM10 25h1v1h-1zM16 25h1v1h-1zM23 25h1v1h-1zM7 26h1v1h-1zM7 27h1v1h-1zM12 27h1v1h-1zM16 27h1v1h-1zM21 27h1v1h-1zM10 28h1v1h-1zM12 28h1v1h-1zM16 28h1v1h-1z"/><path fill="#fed26e" d="M20 1h1v1h-1zM17 2h1v1h-1zM19 2h1v1h-1zM12 3h1v1h-1zM18 3h1v1h-1zM10 4h1v1h-1zM16 4h1v1h-1zM18 4h1v1h-1zM23 4h1v1h-1zM11 5h1v1h-1zM21 5h1v1h-1zM23 6h1v1h-1zM14 7h1v1h-1zM26 7h1v1h-1zM3 8h1v1h-1zM24 8h2v1h-2zM17 9h1v1h-1zM19 9h1v1h-1zM6 10h1v1h-1zM14 10h1v1h-1zM24 10h1v1h-1zM27 10h1v1h-1zM1 11h2v1h-2zM7 11h1v1h-1zM22 11h1v1h-1zM26 11h1v1h-1zM7 12h2v1h-2zM18 12h1v1h-1zM21 12h1v1h-1zM24 12h2v1h-2zM2 13h1v1h-1zM16 13h1v1h-1zM10 14h1v1h-1zM14 14h1v1h-1zM24 14h1v1h-1zM15 15h1v1h-1zM18 15h1v1h-1zM22 15h1v1h-1zM24 15h1v1h-1zM27 15h1v1h-1zM29 15h1v1h-1zM1 16h1v1h-1zM5 16h1v1h-1zM8 16h1v1h-1zM27 16h1v1h-1zM1 17h1v1h-1zM22 17h1v1h-1zM8 18h1v1h-1zM13 18h2v1h-2zM17 18h1v1h-1zM2 19h1v1h-1zM7 19h1v1h-1zM3 20h1v1h-1zM21 20h1v1h-1zM26 20h2v1h-2zM3 21h1v1h-1zM7 21h1v1h-1zM3 22h1v1h-1zM5 22h1v1h-1zM10 22h1v1h-1zM21 22h1v1h-1zM10 23h1v1h-1zM13 23h1v1h-1zM22 23h1v1h-1zM5 24h2v1h-2zM9 24h1v1h-1zM23 24h1v1h-1zM9 25h1v1h-1zM17 25h1v1h-1zM8 26h1v1h-1zM17 26h2v1h-2zM9 27h1v1h-1zM13 27h1v1h-1zM18 28h1v1h-1zM12 29h1v1h-1z"/><path fill="#feb650" d="M9 3h1v1h-1zM15 3h2v1h-2zM20 3h1v1h-1zM9 4h1v1h-1zM12 4h3v1h-3zM6 5h2v1h-2zM12 5h1v1h-1zM8 6h1v1h-1zM13 6h1v1h-1zM24 6h1v1h-1zM7 7h2v1h-2zM7 8h1v1h-1zM12 8h1v1h-1zM3 9h1v1h-1zM18 9h1v1h-1zM20 9h2v1h-2zM23 9h1v1h-1zM13 10h1v1h-1zM19 10h1v1h-1zM4 11h1v1h-1zM8 11h1v1h-1zM10 11h1v1h-1zM13 11h2v1h-2zM17 11h1v1h-1zM23 11h1v1h-1zM2 12h1v1h-1zM10 12h1v1h-1zM13 12h1v1h-1zM8 13h1v1h-1zM13 13h1v1h-1zM26 13h2v1h-2zM11 14h1v1h-1zM16 14h1v1h-1zM19 14h2v1h-2zM26 14h1v1h-1zM6 15h1v1h-1zM17 15h1v1h-1zM9 16h1v1h-1zM11 16h3v1h-3zM25 16h2v1h-2zM3 17h1v1h-1zM7 17h1v1h-1zM12 17h1v1h-1zM4 18h1v1h-1zM6 18h1v1h-1zM11 18h1v1h-1zM16 18h1v1h-1zM27 18h1v1h-1zM10 19h1v1h-1zM23 19h1v1h-1zM25 19h1v1h-1zM23 20h2v1h-2zM4 21h1v1h-1zM6 21h1v1h-1zM9 21h2v1h-2zM18 21h2v1h-2zM25 21h1v1h-1zM4 22h1v1h-1zM15 22h1v1h-1zM23 22h1v1h-1zM8 23h1v1h-1zM18 23h1v1h-1zM20 23h1v1h-1zM16 24h1v1h-1zM7 25h1v1h-1zM12 25h1v1h-1zM22 25h1v1h-1zM24 25h1v1h-1zM6 26h1v1h-1zM9 26h1v1h-1zM12 26h1v1h-1zM14 26h1v1h-1zM19 26h1v1h-1zM22 26h1v1h-1zM18 27h2v1h-2zM13 28h1v1h-1z"/><path fill="#fd9a42" d="M11 3h1v1h-1zM8 4h1v1h-1zM15 4h1v1h-1zM19 4h1v1h-1zM8 5h1v1h-1zM10 5h1v1h-1zM17 5h1v1h-1zM6 6h1v1h-1zM12 6h1v1h-1zM4 7h1v1h-1zM6 7h1v1h-1zM9 7h1v1h-1zM12 7h1v1h-1zM15 7h1v1h-1zM18 7h1v1h-1zM22 7h3v1h-3zM8 8h1v1h-1zM10 8h2v1h-2zM14 8h2v1h-2zM19 8h1v1h-1zM23 8h1v1h-1zM5 9h2v1h-2zM8 9h1v1h-1zM14 9h1v1h-1zM4 10h1v1h-1zM12 10h1v1h-1zM17 10h1v1h-1zM26 10h1v1h-1zM3 11h1v1h-1zM11 11h2v1h-2zM19 11h1v1h-1zM9 12h1v1h-1zM11 12h2v1h-2zM26 12h1v1h-1zM3 13h1v1h-1zM5 13h1v1h-1zM11 13h1v1h-1zM14 13h1v1h-1zM20 13h2v1h-2zM2 14h1v1h-1zM7 14h3v1h-3zM13 14h1v1h-1zM15 14h1v1h-1zM21 14h1v1h-1zM5 15h1v1h-1zM12 15h2v1h-2zM16 15h1v1h-1zM20 15h1v1h-1zM26 15h1v1h-1zM4 16h1v1h-1zM15 16h1v1h-1zM17 16h1v1h-1zM19 16h1v1h-1zM21 16h1v1h-1zM23 16h1v1h-1zM8 17h1v1h-1zM16 17h1v1h-1zM18 17h1v1h-1zM25 17h1v1h-1zM2 18h1v1h-1zM18 18h1v1h-1zM22 18h1v1h-1zM24 18h1v1h-1zM4 19h1v1h-1zM6 19h1v1h-1zM13 19h1v1h-1zM15 19h1v1h-1zM20 19h1v1h-1zM8 20h1v1h-1zM10 20h1v1h-1zM14 20h2v1h-2zM18 20h1v1h-1zM22 20h1v1h-1zM25 20h1v1h-1zM11 21h1v1h-1zM21 21h1v1h-1zM23 21h1v1h-1zM8 22h1v1h-1zM12 22h1v1h-1zM17 22h1v1h-1zM6 23h1v1h-1zM15 23h1v1h-1zM12 24h2v1h-2zM17 24h1v1h-1zM19 24h1v1h-1zM21 24h2v1h-2zM13 26h1v1h-1zM11 27h1v1h-1zM15 27h1v1h-1z"/><path fill="#fd7635" d="M13 1h1v1h-1zM12 2h1v1h-1zM14 2h1v1h-1zM7 4h1v1h-1zM11 4h1v1h-1zM20 4h1v1h-1zM18 5h1v1h-1zM14 6h2v1h-2zM17 6h2v1h-2zM11 7h1v1h-1zM19 7h2v1h-2zM5 8h1v1h-1zM9 8h1v1h-1zM4 9h1v1h-1zM7 9h1v1h-1zM11 9h1v1h-1zM15 9h1v1h-1zM24 9h1v1h-1zM16 10h1v1h-1zM20 10h1v1h-1zM22 10h1v1h-1zM15 11h1v1h-1zM20 11h1v1h-1zM25 11h1v1h-1zM14 12h1v1h-1zM16 12h1v1h-1zM19 12h2v1h-2zM22 12h1v1h-1zM10 13h1v1h-1zM18 13h2v1h-2zM23 13h1v1h-1zM4 14h2v1h-2zM22 14h2v1h-2zM14 15h1v1h-1zM23 15h1v1h-1zM6 16h2v1h-2zM10 16h1v1h-1zM20 16h1v1h-1zM4 17h1v1h-1zM13 17h1v1h-1zM17 17h1v1h-1zM27 17h1v1h-1zM5 18h1v1h-1zM20 18h1v1h-1zM26 18h1v1h-1zM8 19h2v1h-2zM12 19h1v1h-1zM17 19h1v1h-1zM7 20h1v1h-1zM12 20h2v1h-2zM16 20h2v1h-2zM5 21h1v1h-1zM12 21h1v1h-1zM14 21h1v1h-1zM20 21h1v1h-1zM24 21h1v1h-1zM7 22h1v1h-1zM16 22h1v1h-1zM7 23h1v1h-1zM9 23h1v1h-1zM16 23h2v1h-2zM8 24h1v1h-1zM18 24h1v1h-1zM11 25h1v1h-1zM13 25h1v1h-1zM15 25h1v1h-1zM18 25h1v1h-1zM21 25h1v1h-1zM11 26h1v1h-1zM15 26h1v1h-1zM10 27h1v1h-1zM14 27h1v1h-1z"/><path fill="#fa4929" d="M13 3h1v1h-1zM9 5h1v1h-1zM13 5h1v1h-1zM19 5h2v1h-2zM5 7h1v1h-1zM13 7h1v1h-1zM16 7h1v1h-1zM6 8h1v1h-1zM17 8h1v1h-1zM13 9h1v1h-1zM22 9h1v1h-1zM25 9h1v1h-1zM5 10h1v1h-1zM9 10h2v1h-2zM15 10h1v1h-1zM16 11h1v1h-1zM18 11h1v1h-1zM3 12h1v1h-1zM5 12h2v1h-2zM15 12h1v1h-1zM17 12h1v1h-1zM23 12h1v1h-1zM6 13h1v1h-1zM9 13h1v1h-1zM17 13h1v1h-1zM17 14h1v1h-1zM25 14h1v1h-1zM3 15h2v1h-2zM8 15h2v1h-2zM19 15h1v1h-1zM21 15h1v1h-1zM25 15h1v1h-1zM18 16h1v1h-1zM5 17h2v1h-2zM15 17h1v1h-1zM7 18h1v1h-1zM12 18h1v1h-1zM15 18h1v1h-1zM21 18h1v1h-1zM25 18h1v1h-1zM11 19h1v1h-1zM16 19h1v1h-1zM4 20h1v1h-1zM9 20h1v1h-1zM20 20h1v1h-1zM9 22h1v1h-1zM14 22h1v1h-1zM19 22h2v1h-2zM14 23h1v1h-1zM19 23h1v1h-1zM21 23h1v1h-1zM24 23h1v1h-1zM14 24h2v1h-2zM8 25h1v1h-1zM20 25h1v1h-1z"/><path fill="#e8231f" d="M14 5h1v1h-1zM16 5h1v1h-1zM10 6h1v1h-1zM22 6h1v1h-1zM13 8h1v1h-1zM16 8h1v1h-1zM20 8h1v1h-1zM9 9h1v1h-1zM12 9h1v1h-1zM16 9h1v1h-1zM8 10h1v1h-1zM18 10h1v1h-1zM21 10h1v1h-1zM23 10h1v1h-1zM5 11h2v1h-2zM27 12h1v1h-1zM24 13h1v1h-1zM6 14h1v1h-1zM18 14h1v1h-1zM7 15h1v1h-1zM10 15h1v1h-1zM16 16h1v1h-1zM24 16h1v1h-1zM19 17h1v1h-1zM24 17h1v1h-1zM3 18h1v1h-1zM10 18h1v1h-1zM23 18h1v1h-1zM3 19h1v1h-1zM14 19h1v1h-1zM22 19h1v1h-1zM24 19h1v1h-1zM6 20h1v1h-1zM19 20h1v1h-1zM8 21h1v1h-1zM13 21h1v1h-1zM17 21h1v1h-1zM25 22h1v1h-1zM10 24h2v1h-2zM19 25h1v1h-1zM10 26h1v1h-1z"/><path fill="#ce0c21" d="M9 6h1v1h-1zM20 6h1v1h-1zM17 7h1v1h-1zM21 7h1v1h-1zM7 10h1v1h-1zM11 10h1v1h-1zM24 11h1v1h-1zM7 13h1v1h-1zM12 13h1v1h-1zM12 14h1v1h-1zM27 14h1v1h-1zM11 15h1v1h-1zM22 16h1v1h-1zM9 17h1v1h-1zM11 17h1v1h-1zM14 17h1v1h-1zM19 18h1v1h-1zM5 19h1v1h-1zM21 19h1v1h-1zM5 20h1v1h-1zM11 20h1v1h-1zM16 21h1v1h-1zM13 22h1v1h-1zM22 22h1v1h-1zM11 23h2v1h-2zM7 24h1v1h-1zM14 25h1v1h-1zM16 26h1v1h-1z"/><path fill="#ac0026" d="M17 4h1v1h-1zM15 5h1v1h-1zM11 6h1v1h-1zM25 10h1v1h-1zM21 11h1v1h-1zM4 12h1v1h-1zM25 13h1v1h-1zM3 16h1v1h-1zM21 17h1v1h-1zM6 22h1v1h-1zM18 22h1v1h-1zM23 23h1v1h-1z"/><path fill="#800026" d="M7 6h1v1h-1zM18 8h1v1h-1zM9 11h1v1h-1zM15 13h1v1h-1zM22 21h1v1h-1z"/></g>
<rect x="604.70" y="550.20" width="355.00" height="361.30" fill="none" stroke="#000" stroke-width="5.30"/>
<line x1="646.00" y1="911.50" x2="646.00" y2="917.70" stroke="#000" stroke-width="1.40"/><text x="646.00" y="937.50" font-size="17.50" text-anchor="middle">−5.0</text>
<line x1="712.75" y1="911.50" x2="712.75" y2="917.70" stroke="#000" stroke-width="1.40"/><text x="712.75" y="937.50" font-size="17.50" text-anchor="middle">−2.5</text>
<line x1="779.50" y1="911.50" x2="779.50" y2="917.70" stroke="#000" stroke-width="1.40"/><text x="779.50" y="937.50" font-size="17.50" text-anchor="middle">0.0</text>
<line x1="846.25" y1="911.50" x2="846.25" y2="917.70" stroke="#000" stroke-width="1.40"/><text x="846.25" y="937.50" font-size="17.50" text-anchor="middle">2.5</text>
<line x1="913.00" y1="911.50" x2="913.00" y2="917.70" stroke="#000" stroke-width="1.40"/><text x="913.00" y="937.50" font-size="17.50" text-anchor="middle">5.0</text>
<line x1="598.50" y1="895.20" x2="604.70" y2="895.20" stroke="#000" stroke-width="1.40"/><text x="592.60" y="901.80" font-size="17.50" text-anchor="end">−6</text>
<line x1="598.50" y1="841.80" x2="604.70" y2="841.80" stroke="#000" stroke-width="1.40"/><text x="592.60" y="848.40" font-size="17.50" text-anchor="end">−4</text>
<line x1="598.50" y1="788.40" x2="604.70" y2="788.40" stroke="#000" stroke-width="1.40"/><text x="592.60" y="795.00" font-size="17.50" text-anchor="end">−2</text>
<line x1="598.50" y1="735.00" x2="604.70" y2="735.00" stroke="#000" stroke-width="1.40"/><text x="592.60" y="741.60" font-size="17.50" text-anchor="end">0</text>
<line x1="598.50" y1="681.60" x2="604.70" y2="681.60" stroke="#000" stroke-width="1.40"/><text x="592.60" y="688.20" font-size="17.50" text-anchor="end">2</text>
<line x1="598.50" y1="628.20" x2="604.70" y2="628.20" stroke="#000" stroke-width="1.40"/><text x="592.60" y="634.80" font-size="17.50" text-anchor="end">4</text>
<line x1="598.50" y1="574.80" x2="604.70" y2="574.80" stroke="#000" stroke-width="1.40"/><text x="592.60" y="581.40" font-size="17.50" text-anchor="end">6</text>
<text x="782.20" y="539.50" font-size="22.75" text-anchor="middle">b=10, No. of matrices=3</text>
<text x="782.20" y="965.00" font-size="22.75" text-anchor="middle">Re z</text>
<rect x="982.00" y="493.60" width="23.80" height="475.30" fill="url(#g)" stroke="#000" stroke-width="5.30"/>
<line x1="1005.80" y1="968.90" x2="1012.00" y2="968.90" stroke="#000" stroke-width="1.40"/><text x="1017.30" y="975.70" font-size="17.50">0.0</text>
<line x1="1005.80" y1="904.09" x2="1012.00" y2="904.09" stroke="#000" stroke-width="1.40"/><text x="1017.30" y="910.89" font-size="17.50">0.5</text>
<line x1="1005.80" y1="839.27" x2="1012.00" y2="839.27" stroke="#000" stroke-width="1.40"/><text x="1017.30" y="846.07" font-size="17.50">1.0</text>
<line x1="1005.80" y1="774.46" x2="1012.00" y2="774.46" stroke="#000" stroke-width="1.40"/><text x="1017.30" y="781.26" font-size="17.50">1.5</text>
<line x1="1005.80" y1="709.65" x2="1012.00" y2="709.65" stroke="#000" stroke-width="1.40"/><text x="1017.30" y="716.45" font-size="17.50">2.0</text>
<line x1="1005.80" y1="644.83" x2="1012.00" y2="644.83" stroke="#000" stroke-width="1.40"/><text x="1017.30" y="651.63" font-size="17.50">2.5</text>
<line x1="1005.80" y1="580.02" x2="1012.00" y2="580.02" stroke="#000" stroke-width="1.40"/><text x="1017.30" y="586.82" font-size="17.50">3.0</text>
<line x1="1005.80" y1="515.21" x2="1012.00" y2="515.21" stroke="#000" stroke-width="1.40"/><text x="1017.30" y="522.01" font-size="17.50">3.5</text>
</g>
<g>
<rect x="72.00" y="1044.00" width="355.00" height="348.10" fill="#ffffcc"/>
<g transform="translate(72.00 1044.00) scale(11.8333 11.6033)" shape-rendering="crispEdges"><path fill="#fee187" d="M19 0h1v1h-1zM14 1h1v1h-1zM17 1h1v1h-1zM20 1h1v1h-1zM7 2h2v1h-2zM10 2h2v1h-2zM16 2h1v1h-1zM18 2h2v1h-2zM22 2h1v1h-1zM8 3h1v1h-1zM10 3h1v1h-1zM18 3h1v1h-1zM20 3h2v1h-2zM23 3h1v1h-1zM13 4h1v1h-1zM15 4h2v1h-2zM18 4h3v1h-3zM24 4h1v1h-1zM6 5h1v1h-1zM16 5h1v1h-1zM19 5h1v1h-1zM22 5h1v1h-1zM24 5h1v1h-1zM3 6h1v1h-1zM5 6h1v1h-1zM8 6h3v1h-3zM17 6h2v1h-2zM21 6h1v1h-1zM26 6h2v1h-2zM5 7h1v1h-1zM8 7h1v1h-1zM12 7h2v1h-2zM15 7h1v1h-1zM21 7h1v1h-1zM24 7h1v1h-1zM3 8h2v1h-2zM6 8h1v1h-1zM9 8h1v1h-1zM12 8h1v1h-1zM19 8h1v1h-1zM27 8h1v1h-1zM4 9h1v1h-1zM9 9h2v1h-2zM12 9h1v1h-1zM14 9h1v1h-1zM21 9h2v1h-2zM27 9h1v1h-1zM2 10h1v1h-1zM6 10h4v1h-4zM13 10h1v1h-1zM17 10h1v1h-1zM21 10h1v1h-1zM24 10h2v1h-2zM27 10h2v1h-2zM0 11h1v1h-1zM7 11h1v1h-1zM10 11h2v1h-2zM14 11h3v1h-3zM19 11h2v1h-2zM22 11h1v1h-1zM24 11h2v1h-2zM29 11h1v1h-1zM5 12h1v1h-1zM7 12h2v1h-2zM11 12h1v1h-1zM20 12h1v1h-1zM23 12h1v1h-1zM25 12h2v1h-2zM2 13h2v1h-2zM5 13h1v1h-1zM9 13h2v1h-2zM12 13h1v1h-1zM14 13h1v1h-1zM16 13h1v1h-1zM18 13h1v1h-1zM21 13h1v1h-1zM23 13h2v1h-2zM29 13h1v1h-1zM2 14h1v1h-1zM6 14h1v1h-1zM10 14h4v1h-4zM15 14h3v1h-3zM23 14h1v1h-1zM25 14h1v1h-1zM27 14h1v1h-1zM29 14h1v1h-1zM2 15h2v1h-2zM5 15h1v1h-1zM8 15h2v1h-2zM13 15h1v1h-1zM26 15h1v1h-1zM0 16h1v1h-1zM2 16h1v1h-1zM4 16h5v1h-5zM11 16h1v1h-1zM13 16h1v1h-1zM16 16h1v1h-1zM28 16h1v1h-1zM3 17h1v1h-1zM6 17h1v1h-1zM8 17h1v1h-1zM12 17h1v1h-1zM17 17h1v1h-1zM19 17h2v1h-2zM22 17h1v1h-1zM24 17h2v1h-2zM2 18h1v1h-1zM9 18h1v1h-1zM13 18h2v1h-2zM16 18h1v1h-1zM20 18h2v1h-2zM28 18h1v1h-1zM3 19h2v1h-2zM6 19h1v1h-1zM13 19h1v1h-1zM16 19h1v1h-1zM18 19h1v1h-1zM21 19h1v1h-1zM26 19h4v1h-4zM2 20h1v1h-1zM6 20h1v1h-1zM11 20h2v1h-2zM18 20h1v1h-1zM20 20h1v1h-1zM22 20h2v1h-2zM26 20h2v1h-2zM10 21h1v1h-1zM15 21h1v1h-1zM19 21h1v1h-1zM21 21h1v1h-1zM23 21h1v1h-1zM25 21h1v1h-1zM27 21h1v1h-1zM4 22h1v1h-1zM9 22h3v1h-3zM14 22h1v1h-1zM16 22h1v1h-1zM19 22h1v1h-1zM25 22h1v1h-1zM5 23h1v1h-1zM7 23h2v1h-2zM13 23h1v1h-1zM15 23h2v1h-2zM19 23h2v1h-2zM25 23h1v1h-1zM27 23h1v1h-1zM4 24h1v1h-1zM8 24h2v1h-2zM13 24h1v1h-1zM17 24h1v1h-1zM21 24h1v1h-1zM23 24h1v1h-1zM5 25h1v1h-1zM7 25h1v1h-1zM10 25h1v1h-1zM19 25h1v1h-1zM24 25h2v1h-2zM27 25h1v1h-1zM16 26h1v1h-1zM23 26h1v1h-1zM11 27h1v1h-1zM17 27h1v1h-1zM21 27h1v1h-1zM10 28h3v1h-3zM14 28h1v1h-1zM17 28h1v1h-1zM20 28h1v1h-1zM22 28h1v1h-1zM10 29h1v1h-1zM12 29h1v1h-1zM14 29h2v1h-2z"/><path fill="#feab49" d="M12 0h1v1h-1zM14 0h1v1h-1zM10 1h1v1h-1zM13 1h1v1h-1zM16 1h1v1h-1zM18 1h1v1h-1zM9 2h1v1h-1zM12 2h1v1h-1zM15 2h1v1h-1zM17 2h1v1h-1zM21 2h1v1h-1zM9 3h1v1h-1zM12 3h3v1h-3zM16 3h1v1h-1zM19 3h1v1h-1zM8 4h1v1h-1zM12 4h1v1h-1zM14 4h1v1h-1zM17 4h1v1h-1zM21 4h1v1h-1zM23 4h1v1h-1zM8 5h1v1h-1zM11 5h1v1h-1zM13 5h2v1h-2zM21 5h1v1h-1zM23 5h1v1h-1zM12 6h1v1h-1zM16 6h1v1h-1zM22 6h1v1h-1zM24 6h1v1h-1zM11 7h1v1h-1zM14 7h1v1h-1zM16 7h2v1h-2zM20 7h1v1h-1zM26 7h1v1h-1zM5 8h1v1h-1zM7 8h1v1h-1zM11 8h1v1h-1zM13 8h2v1h-2zM16 8h1v1h-1zM18 8h1v1h-1zM20 8h1v1h-1zM23 8h2v1h-2zM6 9h3v1h-3zM13 9h1v1h-1zM17 9h2v1h-2zM24 9h1v1h-1zM28 9h1v1h-1zM14 10h2v1h-2zM19 10h2v1h-2zM22 10h2v1h-2zM4 11h3v1h-3zM8 11h2v1h-2zM12 11h2v1h-2zM21 11h1v1h-1zM27 11h1v1h-1zM4 12h1v1h-1zM9 12h1v1h-1zM14 12h1v1h-1zM16 12h1v1h-1zM18 12h1v1h-1zM22 12h1v1h-1zM24 12h1v1h-1zM4 13h1v1h-1zM8 13h1v1h-1zM11 13h1v1h-1zM19 13h1v1h-1zM22 13h1v1h-1zM27 13h1v1h-1zM3 14h3v1h-3zM7 14h3v1h-3zM14 14h1v1h-1zM18 14h5v1h-5zM26 14h1v1h-1zM7 15h1v1h-1zM10 15h1v1h-1zM12 15h1v1h-1zM14 15h1v1h-1zM17 15h1v1h-1zM21 15h4v1h-4zM27 15h2v1h-2zM1 16h1v1h-1zM10 16h1v1h-1zM14 16h1v1h-1zM22 16h1v1h-1zM25 16h3v1h-3zM2 17h1v1h-1zM4 17h2v1h-2zM7 17h1v1h-1zM9 17h2v1h-2zM14 17h1v1h-1zM23 17h1v1h-1zM28 17h1v1h-1zM3 18h1v1h-1zM6 18h2v1h-2zM10 18h1v1h-1zM12 18h1v1h-1zM15 18h1v1h-1zM17 18h1v1h-1zM19 18h1v1h-1zM22 18h2v1h-2zM29 18h1v1h-1zM2 19h1v1h-1zM9 19h3v1h-3zM15 19h1v1h-1zM22 19h3v1h-3zM3 20h1v1h-1zM7 20h1v1h-1zM13 20h2v1h-2zM16 20h1v1h-1zM19 20h1v1h-1zM25 20h1v1h-1zM28 20h1v1h-1zM2 21h1v1h-1zM6 21h4v1h-4zM11 21h1v1h-1zM17 21h1v1h-1zM20 21h1v1h-1zM22 21h1v1h-1zM26 21h1v1h-1zM3 22h1v1h-1zM6 22h1v1h-1zM12 22h2v1h-2zM18 22h1v1h-1zM21 22h3v1h-3zM26 22h2v1h-2zM6 23h1v1h-1zM10 23h3v1h-3zM22 23h1v1h-1zM24 23h1v1h-1zM6 24h2v1h-2zM10 24h1v1h-1zM14 24h2v1h-2zM18 24h2v1h-2zM24 24h1v1h-1zM6 25h1v1h-1zM8 25h1v1h-1zM11 25h1v1h-1zM16 25h2v1h-2zM20 25h2v1h-2zM23 25h1v1h-1zM7 26h1v1h-1zM9 26h2v1h-2zM12 26h1v1h-1zM14 26h1v1h-1zM19 26h4v1h-4zM9 27h1v1h-1zM12 27h3v1h-3zM18 27h3v1h-3zM13 28h1v1h-1zM16 28h1v1h-1zM19 28h1v1h-1zM11 29h1v1h-1zM18 29h1v1h-1z"/><path fill="#fc5b2e" d="M13 2h2v1h-2zM20 2h1v1h-1zM6 4h1v1h-1zM7 5h1v1h-1zM10 5h1v1h-1zM12 5h1v1h-1zM17 5h2v1h-2zM7 6h1v1h-1zM11 6h1v1h-1zM14 6h1v1h-1zM18 7h2v1h-2zM22 7h1v1h-1zM25 7h1v1h-1zM15 8h1v1h-1zM22 8h1v1h-1zM5 9h1v1h-1zM11 9h1v1h-1zM19 9h1v1h-1zM25 9h1v1h-1zM4 10h1v1h-1zM10 10h1v1h-1zM12 10h1v1h-1zM16 10h1v1h-1zM17 11h2v1h-2zM23 11h1v1h-1zM10 12h1v1h-1zM13 12h1v1h-1zM15 12h1v1h-1zM19 12h1v1h-1zM21 12h1v1h-1zM27 12h1v1h-1zM6 13h1v1h-1zM15 13h1v1h-1zM17 13h1v1h-1zM25 13h1v1h-1zM28 13h1v1h-1zM4 15h1v1h-1zM6 15h1v1h-1zM16 15h1v1h-1zM20 15h1v1h-1zM9 16h1v1h-1zM12 16h1v1h-1zM15 16h1v1h-1zM18 16h1v1h-1zM21 16h1v1h-1zM13 17h1v1h-1zM18 17h1v1h-1zM26 17h1v1h-1zM4 18h1v1h-1zM18 18h1v1h-1zM27 18h1v1h-1zM5 19h1v1h-1zM8 19h1v1h-1zM12 19h1v1h-1zM14 19h1v1h-1zM25 19h1v1h-1zM5 20h1v1h-1zM15 20h1v1h-1zM17 20h1v1h-1zM21 20h1v1h-1zM4 21h1v1h-1zM18 21h1v1h-1zM24 21h1v1h-1zM5 22h1v1h-1zM15 22h1v1h-1zM17 22h1v1h-1zM20 22h1v1h-1zM24 22h1v1h-1zM9 23h1v1h-1zM26 23h1v1h-1zM11 24h1v1h-1zM20 24h1v1h-1zM22 24h1v1h-1zM9 25h1v1h-1zM12 25h1v1h-1zM15 25h1v1h-1zM13 26h1v1h-1zM17 26h1v1h-1zM10 27h1v1h-1zM18 28h1v1h-1z"/><path fill="#d41020" d="M15 0h1v1h-1zM11 3h1v1h-1zM17 3h1v1h-1zM22 3h1v1h-1zM20 6h1v1h-1zM25 6h1v1h-1zM6 7h1v1h-1zM9 7h1v1h-1zM8 8h1v1h-1zM26 8h1v1h-1zM2 11h2v1h-2zM26 11h1v1h-1zM13 13h1v1h-1zM24 14h1v1h-1zM11 15h1v1h-1zM11 17h1v1h-1zM16 17h1v1h-1zM24 18h1v1h-1zM20 19h1v1h-1zM8 20h1v1h-1zM12 21h1v1h-1zM14 21h1v1h-1zM18 25h1v1h-1zM8 26h1v1h-1zM15 27h1v1h-1z"/><path fill="#800026" d="M5 5h1v1h-1z"/></g>
<rect x="72.00" y="1044.00" width="355.00" height="348.10" fill="none" stroke="#000" stroke-width="5.30"/>
<line x1="157.00" y1="1392.10" x2="157.00" y2="1398.30" stroke="#000" stroke-width="1.40"/><text x="157.00" y="1418.10" font-size="17.50" text-anchor="middle">−5</text>
<line x1="254.50" y1="1392.10" x2="254.50" y2="1398.30" stroke="#000" stroke-width="1.40"/><text x="254.50" y="1418.10" font-size="17.50" text-anchor="middle">0</text>
<line x1="352.00" y1="1392.10" x2="352.00" y2="1398.30" stroke="#000" stroke-width="1.40"/><text x="352.00" y="1418.10" font-size="17.50" text-anchor="middle">5</text>
<line x1="65.80" y1="1370.70" x2="72.00" y2="1370.70" stroke="#000" stroke-width="1.40"/><text x="59.90" y="1377.30" font-size="17.50" text-anchor="end">−8</text>
<line x1="65.80" y1="1331.90" x2="72.00" y2="1331.90" stroke="#000" stroke-width="1.40"/><text x="59.90" y="1338.50" font-size="17.50" text-anchor="end">−6</text>
<line x1="65.80" y1="1293.10" x2="72.00" y2="1293.10" stroke="#000" stroke-width="1.40"/><text x="59.90" y="1299.70" font-size="17.50" text-anchor="end">−4</text>
<line x1="65.80" y1="1254.30" x2="72.00" y2="1254.30" stroke="#000" stroke-width="1.40"/><text x="59.90" y="1260.90" font-size="17.50" text-anchor="end">−2</text>
<line x1="65.80" y1="1215.50" x2="72.00" y2="1215.50" stroke="#000" stroke-width="1.40"/><text x="59.90" y="1222.10" font-size="17.50" text-anchor="end">0</text>
<line x1="65.80" y1="1176.70" x2="72.00" y2="1176.70" stroke="#000" stroke-width="1.40"/><text x="59.90" y="1183.30" font-size="17.50" text-anchor="end">2</text>
<line x1="65.80" y1="1137.90" x2="72.00" y2="1137.90" stroke="#000" stroke-width="1.40"/><text x="59.90" y="1144.50" font-size="17.50" text-anchor="end">4</text>
<line x1="65.80" y1="1099.10" x2="72.00" y2="1099.10" stroke="#000" stroke-width="1.40"/><text x="59.90" y="1105.70" font-size="17.50" text-anchor="end">6</text>
<line x1="65.80" y1="1060.30" x2="72.00" y2="1060.30" stroke="#000" stroke-width="1.40"/><text x="59.90" y="1066.90" font-size="17.50" text-anchor="end">8</text>
<text x="249.50" y="1033.30" font-size="22.75" text-anchor="middle">b=20, No. of matrices=1</text>
<text x="249.50" y="1445.60" font-size="22.75" text-anchor="middle">Re z</text>
<text transform="translate(21.70,1218.05) rotate(-90)" font-size="22.75" text-anchor="middle">Im z</text>
<rect x="449.30" y="980.90" width="23.80" height="475.00" fill="url(#g)" stroke="#000" stroke-width="5.30"/>
<line x1="473.10" y1="1455.90" x2="479.30" y2="1455.90" stroke="#000" stroke-width="1.40"/><text x="484.60" y="1462.70" font-size="17.50">0</text>
<line x1="473.10" y1="1360.90" x2="479.30" y2="1360.90" stroke="#000" stroke-width="1.40"/><text x="484.60" y="1367.70" font-size="17.50">1</text>
<line x1="473.10" y1="1265.90" x2="479.30" y2="1265.90" stroke="#000" stroke-width="1.40"/><text x="484.60" y="1272.70" font-size="17.50">2</text>
<line x1="473.10" y1="1170.90" x2="479.30" y2="1170.90" stroke="#000" stroke-width="1.40"/><text x="484.60" y="1177.70" font-size="17.50">3</text>
<line x1="473.10" y1="1075.90" x2="479.30" y2="1075.90" stroke="#000" stroke-width="1.40"/><text x="484.60" y="1082.70" font-size="17.50">4</text>
<line x1="473.10" y1="980.90" x2="479.30" y2="980.90" stroke="#000" stroke-width="1.40"/><text x="484.60" y="987.70" font-size="17.50">5</text>
</g>
<g>
<rect x="604.70" y="1044.00" width="355.00" height="348.10" fill="#ffffcc"/>
<g transform="translate(604.70 1044.00) scale(11.8333 11.6033)" shape-rendering="crispEdges"><path fill="#fff2ac" d="M12 0h1v1h-1zM17 0h2v1h-2zM21 0h1v1h-1zM11 1h1v1h-1zM22 1h1v1h-1zM7 2h1v1h-1zM17 2h1v1h-1zM6 3h2v1h-2zM24 3h1v1h-1zM24 4h1v1h-1zM25 5h1v1h-1zM13 6h1v1h-1zM27 6h1v1h-1zM2 7h1v1h-1zM27 7h1v1h-1zM2 8h2v1h-2zM28 9h1v1h-1zM28 10h1v1h-1zM0 11h1v1h-1zM1 12h1v1h-1zM5 12h1v1h-1zM20 12h1v1h-1zM25 12h1v1h-1zM29 13h1v1h-1zM1 14h1v1h-1zM29 15h1v1h-1zM0 16h1v1h-1zM3 16h1v1h-1zM1 17h1v1h-1zM29 17h1v1h-1zM1 18h1v1h-1zM6 18h2v1h-2zM29 18h1v1h-1zM29 19h1v1h-1zM28 20h1v1h-1zM3 21h1v1h-1zM3 22h1v1h-1zM4 24h2v1h-2zM27 24h1v1h-1zM5 25h1v1h-1zM6 26h1v1h-1zM23 26h1v1h-1zM25 26h1v1h-1zM7 27h3v1h-3zM20 27h1v1h-1zM13 28h1v1h-1zM16 28h2v1h-2zM14 29h1v1h-1zM18 29h1v1h-1z"/><path fill="#ffe48d" d="M14 1h1v1h-1zM21 2h1v1h-1zM18 3h1v1h-1zM25 4h1v1h-1zM4 5h1v1h-1zM9 5h2v1h-2zM26 5h1v1h-1zM3 6h1v1h-1zM15 6h1v1h-1zM23 6h1v1h-1zM5 7h1v1h-1zM10 8h1v1h-1zM28 8h1v1h-1zM2 9h3v1h-3zM6 10h1v1h-1zM14 11h2v1h-2zM28 11h1v1h-1zM2 13h2v1h-2zM18 13h1v1h-1zM23 14h1v1h-1zM2 16h1v1h-1zM6 16h1v1h-1zM12 17h1v1h-1zM21 17h1v1h-1zM28 18h1v1h-1zM20 19h1v1h-1zM4 20h1v1h-1zM23 20h1v1h-1zM26 20h1v1h-1zM11 21h1v1h-1zM10 22h1v1h-1zM12 22h1v1h-1zM27 22h1v1h-1zM4 23h1v1h-1zM13 23h1v1h-1zM13 24h1v1h-1zM26 24h1v1h-1zM6 25h1v1h-1zM22 26h1v1h-1zM10 27h2v1h-2zM22 27h1v1h-1zM10 28h1v1h-1zM14 28h1v1h-1zM11 29h1v1h-1z"/><path fill="#fed26e" d="M13 0h1v1h-1zM15 0h1v1h-1zM10 1h1v1h-1zM13 1h1v1h-1zM18 1h1v1h-1zM8 2h3v1h-3zM22 2h1v1h-1zM10 3h1v1h-1zM12 3h1v1h-1zM15 3h1v1h-1zM20 3h1v1h-1zM23 3h1v1h-1zM14 4h1v1h-1zM16 4h1v1h-1zM15 5h2v1h-2zM20 5h1v1h-1zM23 5h1v1h-1zM4 6h1v1h-1zM6 6h1v1h-1zM12 6h1v1h-1zM21 6h1v1h-1zM4 7h1v1h-1zM20 7h2v1h-2zM6 8h1v1h-1zM12 8h1v1h-1zM16 8h1v1h-1zM27 8h1v1h-1zM7 9h1v1h-1zM26 9h1v1h-1zM2 10h1v1h-1zM18 10h2v1h-2zM25 10h1v1h-1zM4 11h1v1h-1zM9 11h2v1h-2zM17 11h1v1h-1zM27 11h1v1h-1zM29 11h1v1h-1zM2 12h1v1h-1zM6 12h2v1h-2zM12 12h1v1h-1zM23 12h1v1h-1zM26 13h1v1h-1zM28 13h1v1h-1zM21 14h1v1h-1zM24 14h1v1h-1zM28 14h1v1h-1zM2 15h1v1h-1zM25 15h1v1h-1zM1 16h1v1h-1zM17 16h1v1h-1zM20 16h1v1h-1zM27 16h3v1h-3zM3 17h1v1h-1zM18 17h1v1h-1zM28 17h1v1h-1zM16 18h1v1h-1zM26 18h1v1h-1zM4 19h1v1h-1zM8 19h2v1h-2zM15 19h1v1h-1zM3 20h1v1h-1zM17 20h1v1h-1zM8 21h1v1h-1zM10 21h1v1h-1zM15 21h1v1h-1zM19 21h2v1h-2zM27 21h1v1h-1zM8 22h1v1h-1zM18 22h2v1h-2zM21 22h1v1h-1zM25 22h1v1h-1zM5 23h1v1h-1zM7 23h1v1h-1zM15 23h1v1h-1zM21 23h1v1h-1zM26 23h1v1h-1zM22 24h1v1h-1zM24 24h2v1h-2zM16 25h1v1h-1zM8 26h1v1h-1zM20 26h1v1h-1zM12 27h1v1h-1zM12 28h1v1h-1zM18 28h1v1h-1z"/><path fill="#feb650" d="M14 0h1v1h-1zM16 1h2v1h-2zM19 1h1v1h-1zM11 2h1v1h-1zM19 2h1v1h-1zM8 3h1v1h-1zM13 3h1v1h-1zM19 3h1v1h-1zM6 4h1v1h-1zM10 4h1v1h-1zM15 4h1v1h-1zM17 4h2v1h-2zM21 4h2v1h-2zM6 5h3v1h-3zM13 5h1v1h-1zM18 5h1v1h-1zM21 5h1v1h-1zM24 5h1v1h-1zM9 6h1v1h-1zM18 6h1v1h-1zM10 7h1v1h-1zM13 7h1v1h-1zM23 7h1v1h-1zM25 7h1v1h-1zM17 8h5v1h-5zM24 8h2v1h-2zM8 9h1v1h-1zM15 9h1v1h-1zM18 9h1v1h-1zM20 9h2v1h-2zM23 9h1v1h-1zM27 9h1v1h-1zM3 10h1v1h-1zM7 10h2v1h-2zM14 10h1v1h-1zM13 11h1v1h-1zM16 11h1v1h-1zM19 11h1v1h-1zM22 11h1v1h-1zM3 12h1v1h-1zM18 12h1v1h-1zM22 12h1v1h-1zM7 13h1v1h-1zM27 13h1v1h-1zM6 14h1v1h-1zM8 14h1v1h-1zM15 14h1v1h-1zM17 14h2v1h-2zM25 14h1v1h-1zM27 14h1v1h-1zM29 14h1v1h-1zM3 15h1v1h-1zM5 15h1v1h-1zM7 15h1v1h-1zM12 15h2v1h-2zM18 15h1v1h-1zM22 15h1v1h-1zM28 15h1v1h-1zM7 16h1v1h-1zM9 16h1v1h-1zM15 16h1v1h-1zM19 16h1v1h-1zM23 16h1v1h-1zM25 16h1v1h-1zM5 17h1v1h-1zM13 17h1v1h-1zM24 17h1v1h-1zM2 18h2v1h-2zM9 18h1v1h-1zM11 18h1v1h-1zM17 18h1v1h-1zM27 18h1v1h-1zM24 19h1v1h-1zM26 19h1v1h-1zM28 19h1v1h-1zM2 20h1v1h-1zM5 20h2v1h-2zM10 20h1v1h-1zM15 20h1v1h-1zM19 20h1v1h-1zM27 20h1v1h-1zM2 21h1v1h-1zM4 21h1v1h-1zM16 21h1v1h-1zM23 21h1v1h-1zM26 21h1v1h-1zM17 22h1v1h-1zM22 22h2v1h-2zM25 23h1v1h-1zM7 24h1v1h-1zM14 24h1v1h-1zM19 24h1v1h-1zM23 24h1v1h-1zM9 25h2v1h-2zM12 25h1v1h-1zM14 25h1v1h-1zM21 25h1v1h-1zM17 26h1v1h-1zM21 26h1v1h-1zM15 27h2v1h-2zM15 28h1v1h-1z"/><path fill="#fd9a42" d="M12 1h1v1h-1zM15 1h1v1h-1zM14 2h2v1h-2zM5 5h1v1h-1zM8 6h1v1h-1zM17 6h1v1h-1zM19 6h1v1h-1zM7 7h2v1h-2zM15 7h3v1h-3zM22 7h1v1h-1zM11 8h1v1h-1zM13 8h1v1h-1zM9 9h2v1h-2zM12 9h1v1h-1zM22 9h1v1h-1zM24 9h2v1h-2zM9 10h1v1h-1zM11 10h1v1h-1zM13 10h1v1h-1zM16 10h1v1h-1zM22 10h1v1h-1zM24 10h1v1h-1zM27 10h1v1h-1zM11 11h2v1h-2zM23 11h1v1h-1zM8 12h1v1h-1zM11 12h1v1h-1zM17 12h1v1h-1zM24 12h1v1h-1zM28 12h1v1h-1zM5 13h1v1h-1zM8 13h2v1h-2zM11 13h1v1h-1zM13 13h3v1h-3zM17 13h1v1h-1zM22 13h2v1h-2zM13 14h2v1h-2zM16 14h1v1h-1zM19 14h1v1h-1zM4 15h1v1h-1zM8 15h1v1h-1zM10 15h2v1h-2zM14 15h2v1h-2zM19 15h1v1h-1zM21 15h1v1h-1zM24 15h1v1h-1zM26 15h1v1h-1zM5 16h1v1h-1zM8 16h1v1h-1zM16 16h1v1h-1zM2 17h1v1h-1zM9 17h2v1h-2zM15 17h1v1h-1zM19 17h1v1h-1zM22 17h1v1h-1zM25 17h1v1h-1zM13 18h1v1h-1zM7 19h1v1h-1zM11 19h1v1h-1zM13 19h1v1h-1zM18 19h1v1h-1zM21 19h1v1h-1zM23 19h1v1h-1zM27 19h1v1h-1zM7 20h1v1h-1zM9 20h1v1h-1zM11 20h1v1h-1zM16 20h1v1h-1zM18 20h1v1h-1zM12 21h2v1h-2zM18 21h1v1h-1zM22 21h1v1h-1zM24 21h2v1h-2zM6 22h2v1h-2zM13 22h1v1h-1zM15 22h2v1h-2zM10 23h1v1h-1zM16 23h2v1h-2zM22 23h2v1h-2zM6 24h1v1h-1zM11 24h1v1h-1zM16 24h1v1h-1zM20 24h1v1h-1zM7 25h1v1h-1zM11 25h1v1h-1zM15 25h1v1h-1zM18 25h3v1h-3zM23 25h2v1h-2zM11 26h1v1h-1zM19 26h1v1h-1zM14 27h1v1h-1zM17 27h3v1h-3z"/><path fill="#fd7635" d="M12 2h1v1h-1zM20 2h1v1h-1zM14 3h1v1h-1zM22 3h1v1h-1zM7 4h3v1h-3zM13 4h1v1h-1zM19 4h1v1h-1zM12 5h1v1h-1zM19 5h1v1h-1zM5 6h1v1h-1zM10 6h1v1h-1zM25 6h1v1h-1zM12 7h1v1h-1zM26 7h1v1h-1zM7 8h1v1h-1zM9 8h1v1h-1zM14 8h1v1h-1zM23 8h1v1h-1zM26 8h1v1h-1zM5 9h1v1h-1zM11 9h1v1h-1zM13 9h2v1h-2zM16 9h2v1h-2zM5 10h1v1h-1zM10 10h1v1h-1zM17 10h1v1h-1zM20 10h2v1h-2zM8 11h1v1h-1zM20 11h2v1h-2zM4 12h1v1h-1zM14 12h1v1h-1zM16 12h1v1h-1zM26 12h1v1h-1zM4 13h1v1h-1zM6 13h1v1h-1zM10 13h1v1h-1zM16 13h1v1h-1zM19 13h2v1h-2zM24 13h1v1h-1zM3 14h2v1h-2zM9 14h4v1h-4zM20 14h1v1h-1zM17 15h1v1h-1zM10 16h3v1h-3zM14 16h1v1h-1zM18 16h1v1h-1zM22 16h1v1h-1zM26 16h1v1h-1zM8 17h1v1h-1zM11 17h1v1h-1zM14 17h1v1h-1zM16 17h1v1h-1zM20 17h1v1h-1zM23 17h1v1h-1zM26 17h1v1h-1zM10 18h1v1h-1zM18 18h1v1h-1zM20 18h1v1h-1zM22 18h1v1h-1zM3 19h1v1h-1zM5 19h2v1h-2zM14 19h1v1h-1zM22 19h1v1h-1zM25 19h1v1h-1zM13 20h2v1h-2zM22 20h1v1h-1zM6 21h2v1h-2zM14 21h1v1h-1zM21 21h1v1h-1zM5 22h1v1h-1zM24 22h1v1h-1zM26 22h1v1h-1zM8 23h2v1h-2zM11 23h2v1h-2zM18 23h2v1h-2zM24 23h1v1h-1zM9 24h1v1h-1zM15 24h1v1h-1zM17 24h2v1h-2zM8 25h1v1h-1zM17 25h1v1h-1zM9 26h2v1h-2zM12 26h5v1h-5zM13 27h1v1h-1zM11 28h1v1h-1z"/><path fill="#fa4929" d="M13 2h1v1h-1zM16 2h1v1h-1zM18 2h1v1h-1zM9 3h1v1h-1zM21 3h1v1h-1zM11 4h2v1h-2zM23 4h1v1h-1zM14 5h1v1h-1zM17 5h1v1h-1zM7 6h1v1h-1zM16 6h1v1h-1zM20 6h1v1h-1zM9 7h1v1h-1zM11 7h1v1h-1zM14 7h1v1h-1zM24 7h1v1h-1zM4 8h2v1h-2zM6 9h1v1h-1zM15 10h1v1h-1zM23 10h1v1h-1zM26 10h1v1h-1zM2 11h1v1h-1zM6 11h2v1h-2zM24 11h3v1h-3zM9 12h2v1h-2zM13 12h1v1h-1zM15 12h1v1h-1zM21 12h1v1h-1zM12 13h1v1h-1zM21 13h1v1h-1zM25 13h1v1h-1zM2 14h1v1h-1zM5 14h1v1h-1zM22 14h1v1h-1zM26 14h1v1h-1zM6 15h1v1h-1zM9 15h1v1h-1zM20 15h1v1h-1zM27 15h1v1h-1zM13 16h1v1h-1zM21 16h1v1h-1zM24 16h1v1h-1zM4 17h1v1h-1zM6 17h2v1h-2zM27 17h1v1h-1zM5 18h1v1h-1zM8 18h1v1h-1zM12 18h1v1h-1zM15 18h1v1h-1zM19 18h1v1h-1zM21 18h1v1h-1zM23 18h3v1h-3zM10 19h1v1h-1zM12 19h1v1h-1zM19 19h1v1h-1zM12 20h1v1h-1zM20 20h2v1h-2zM24 20h2v1h-2zM5 21h1v1h-1zM9 21h1v1h-1zM17 21h1v1h-1zM9 22h1v1h-1zM11 22h1v1h-1zM6 23h1v1h-1zM14 23h1v1h-1zM20 23h1v1h-1zM8 24h1v1h-1zM12 24h1v1h-1zM21 24h1v1h-1zM22 25h1v1h-1zM18 26h1v1h-1z"/><path fill="#e8231f" d="M16 3h1v1h-1zM20 4h1v1h-1zM11 5h1v1h-1zM22 5h1v1h-1zM14 6h1v1h-1zM22 6h1v1h-1zM18 7h1v1h-1zM15 8h1v1h-1zM19 9h1v1h-1zM12 10h1v1h-1zM3 11h1v1h-1zM19 12h1v1h-1zM7 14h1v1h-1zM16 15h1v1h-1zM23 15h1v1h-1zM4 16h1v1h-1zM17 17h1v1h-1zM4 18h1v1h-1zM14 18h1v1h-1zM17 19h1v1h-1zM14 22h1v1h-1zM20 22h1v1h-1zM13 25h1v1h-1z"/><path fill="#ce0c21" d="M11 3h1v1h-1zM17 3h1v1h-1zM11 6h1v1h-1zM24 6h1v1h-1zM6 7h1v1h-1zM19 7h1v1h-1zM8 8h1v1h-1zM22 8h1v1h-1zM4 10h1v1h-1zM5 11h1v1h-1zM18 11h1v1h-1zM27 12h1v1h-1zM16 19h1v1h-1z"/><path fill="#ac0026" d="M10 24h1v1h-1z"/><path fill="#800026" d="M8 20h1v1h-1z"/></g>
<rect x="604.70" y="1044.00" width="355.00" height="348.10" fill="none" stroke="#000" stroke-width="5.30"/>
<line x1="689.70" y1="1392.10" x2="689.70" y2="1398.30" stroke="#000" stroke-width="1.40"/><text x="689.70" y="1418.10" font-size="17.50" text-anchor="middle">−5</text>
<line x1="787.20" y1="1392.10" x2="787.20" y2="1398.30" stroke="#000" stroke-width="1.40"/><text x="787.20" y="1418.10" font-size="17.50" text-anchor="middle">0</text>
<line x1="884.70" y1="1392.10" x2="884.70" y2="1398.30" stroke="#000" stroke-width="1.40"/><text x="884.70" y="1418.10" font-size="17.50" text-anchor="middle">5</text>
<line x1="598.50" y1="1370.70" x2="604.70" y2="1370.70" stroke="#000" stroke-width="1.40"/><text x="592.60" y="1377.30" font-size="17.50" text-anchor="end">−8</text>
<line x1="598.50" y1="1331.90" x2="604.70" y2="1331.90" stroke="#000" stroke-width="1.40"/><text x="592.60" y="1338.50" font-size="17.50" text-anchor="end">−6</text>
<line x1="598.50" y1="1293.10" x2="604.70" y2="1293.10" stroke="#000" stroke-width="1.40"/><text x="592.60" y="1299.70" font-size="17.50" text-anchor="end">−4</text>
<line x1="598.50" y1="1254.30" x2="604.70" y2="1254.30" stroke="#000" stroke-width="1.40"/><text x="592.60" y="1260.90" font-size="17.50" text-anchor="end">−2</text>
<line x1="598.50" y1="1215.50" x2="604.70" y2="1215.50" stroke="#000" stroke-width="1.40"/><text x="592.60" y="1222.10" font-size="17.50" text-anchor="end">0</text>
<line x1="598.50" y1="1176.70" x2="604.70" y2="1176.70" stroke="#000" stroke-width="1.40"/><text x="592.60" y="1183.30" font-size="17.50" text-anchor="end">2</text>
<line x1="598.50" y1="1137.90" x2="604.70" y2="1137.90" stroke="#000" stroke-width="1.40"/><text x="592.60" y="1144.50" font-size="17.50" text-anchor="end">4</text>
<line x1="598.50" y1="1099.10" x2="604.70" y2="1099.10" stroke="#000" stroke-width="1.40"/><text x="592.60" y="1105.70" font-size="17.50" text-anchor="end">6</text>
<line x1="598.50" y1="1060.30" x2="604.70" y2="1060.30" stroke="#000" stroke-width="1.40"/><text x="592.60" y="1066.90" font-size="17.50" text-anchor="end">8</text>
<text x="782.20" y="1033.30" font-size="22.75" text-anchor="middle">b=20, No. of matrices=3</text>
<text x="782.20" y="1445.60" font-size="22.75" text-anchor="middle">Re z</text>
<rect x="982.00" y="980.90" width="23.80" height="475.00" fill="url(#g)" stroke="#000" stroke-width="5.30"/>
<line x1="1005.80" y1="1455.90" x2="1012.00" y2="1455.90" stroke="#000" stroke-width="1.40"/><text x="1017.30" y="1462.70" font-size="17.50">0.0</text>
<line x1="1005.80" y1="1391.13" x2="1012.00" y2="1391.13" stroke="#000" stroke-width="1.40"/><text x="1017.30" y="1397.93" font-size="17.50">0.5</text>
<line x1="1005.80" y1="1326.36" x2="1012.00" y2="1326.36" stroke="#000" stroke-width="1.40"/><text x="1017.30" y="1333.16" font-size="17.50">1.0</text>
<line x1="1005.80" y1="1261.58" x2="1012.00" y2="1261.58" stroke="#000" stroke-width="1.40"/><text x="1017.30" y="1268.38" font-size="17.50">1.5</text>
<line x1="1005.80" y1="1196.81" x2="1012.00" y2="1196.81" stroke="#000" stroke-width="1.40"/><text x="1017.30" y="1203.61" font-size="17.50">2.0</text>
<line x1="1005.80" y1="1132.04" x2="1012.00" y2="1132.04" stroke="#000" stroke-width="1.40"/><text x="1017.30" y="1138.84" font-size="17.50">2.5</text>
<line x1="1005.80" y1="1067.27" x2="1012.00" y2="1067.27" stroke="#000" stroke-width="1.40"/><text x="1017.30" y="1074.07" font-size="17.50">3.0</text>
<line x1="1005.80" y1="1002.50" x2="1012.00" y2="1002.50" stroke="#000" stroke-width="1.40"/><text x="1017.30" y="1009.30" font-size="17.50">3.5</text>
</g>
<g>
<rect x="77.60" y="1525.40" width="355.00" height="359.80" fill="#ffffcc"/>
<g transform="translate(77.60 1525.40) scale(11.8333 11.9933)" shape-rendering="crispEdges"><path fill="#febf5a" d="M10 0h3v1h-3zM14 0h2v1h-2zM17 0h2v1h-2zM20 0h1v1h-1zM8 1h1v1h-1zM11 1h1v1h-1zM13 1h1v1h-1zM18 1h4v1h-4zM8 2h3v1h-3zM13 2h1v1h-1zM16 2h5v1h-5zM23 2h1v1h-1zM5 3h3v1h-3zM13 3h2v1h-2zM17 3h1v1h-1zM19 3h1v1h-1zM21 3h2v1h-2zM24 3h1v1h-1zM4 4h1v1h-1zM7 4h4v1h-4zM20 4h2v1h-2zM25 4h1v1h-1zM6 5h2v1h-2zM11 5h1v1h-1zM14 5h1v1h-1zM16 5h5v1h-5zM22 5h2v1h-2zM26 5h1v1h-1zM15 6h3v1h-3zM22 6h4v1h-4zM2 7h3v1h-3zM6 7h1v1h-1zM8 7h3v1h-3zM13 7h1v1h-1zM24 7h1v1h-1zM26 7h1v1h-1zM2 8h2v1h-2zM6 8h2v1h-2zM9 8h1v1h-1zM14 8h2v1h-2zM17 8h2v1h-2zM20 8h3v1h-3zM24 8h1v1h-1zM28 8h1v1h-1zM1 9h1v1h-1zM6 9h1v1h-1zM10 9h2v1h-2zM14 9h1v1h-1zM18 9h1v1h-1zM20 9h1v1h-1zM23 9h5v1h-5zM0 10h2v1h-2zM4 10h1v1h-1zM6 10h1v1h-1zM10 10h1v1h-1zM12 10h3v1h-3zM17 10h1v1h-1zM23 10h1v1h-1zM26 10h1v1h-1zM28 10h2v1h-2zM0 11h3v1h-3zM4 11h2v1h-2zM8 11h1v1h-1zM10 11h2v1h-2zM13 11h5v1h-5zM19 11h1v1h-1zM21 11h1v1h-1zM23 11h1v1h-1zM26 11h4v1h-4zM1 12h1v1h-1zM3 12h2v1h-2zM7 12h1v1h-1zM11 12h1v1h-1zM15 12h1v1h-1zM19 12h4v1h-4zM24 12h2v1h-2zM2 13h1v1h-1zM5 13h1v1h-1zM7 13h2v1h-2zM10 13h1v1h-1zM13 13h2v1h-2zM16 13h4v1h-4zM21 13h1v1h-1zM23 13h3v1h-3zM29 13h1v1h-1zM2 14h3v1h-3zM6 14h2v1h-2zM10 14h3v1h-3zM15 14h1v1h-1zM17 14h1v1h-1zM22 14h1v1h-1zM26 14h1v1h-1zM28 14h1v1h-1zM0 15h1v1h-1zM5 15h1v1h-1zM7 15h1v1h-1zM10 15h1v1h-1zM12 15h1v1h-1zM17 15h3v1h-3zM21 15h4v1h-4zM0 16h2v1h-2zM3 16h4v1h-4zM8 16h1v1h-1zM11 16h2v1h-2zM15 16h1v1h-1zM18 16h1v1h-1zM21 16h3v1h-3zM27 16h3v1h-3zM0 17h2v1h-2zM5 17h1v1h-1zM8 17h1v1h-1zM10 17h1v1h-1zM13 17h2v1h-2zM17 17h3v1h-3zM21 17h3v1h-3zM0 18h4v1h-4zM6 18h2v1h-2zM9 18h1v1h-1zM11 18h5v1h-5zM17 18h1v1h-1zM21 18h1v1h-1zM24 18h1v1h-1zM26 18h2v1h-2zM29 18h1v1h-1zM3 19h2v1h-2zM8 19h1v1h-1zM11 19h1v1h-1zM16 19h2v1h-2zM20 19h1v1h-1zM22 19h1v1h-1zM25 19h4v1h-4zM0 20h1v1h-1zM2 20h2v1h-2zM5 20h1v1h-1zM8 20h2v1h-2zM12 20h1v1h-1zM14 20h1v1h-1zM16 20h1v1h-1zM21 20h3v1h-3zM25 20h2v1h-2zM28 20h1v1h-1zM2 21h1v1h-1zM5 21h6v1h-6zM17 21h1v1h-1zM19 21h4v1h-4zM27 21h2v1h-2zM2 22h1v1h-1zM5 22h1v1h-1zM7 22h1v1h-1zM10 22h3v1h-3zM17 22h1v1h-1zM19 22h1v1h-1zM21 22h1v1h-1zM24 22h4v1h-4zM2 23h1v1h-1zM4 23h1v1h-1zM8 23h3v1h-3zM12 23h1v1h-1zM15 23h2v1h-2zM21 23h2v1h-2zM24 23h4v1h-4zM2 24h1v1h-1zM4 24h2v1h-2zM7 24h1v1h-1zM9 24h1v1h-1zM12 24h1v1h-1zM14 24h1v1h-1zM17 24h2v1h-2zM21 24h2v1h-2zM24 24h2v1h-2zM4 25h2v1h-2zM9 25h1v1h-1zM12 25h3v1h-3zM16 25h1v1h-1zM21 25h1v1h-1zM25 25h2v1h-2zM4 26h2v1h-2zM7 26h1v1h-1zM9 26h1v1h-1zM12 26h1v1h-1zM16 26h2v1h-2zM19 26h6v1h-6zM6 27h1v1h-1zM8 27h1v1h-1zM10 27h2v1h-2zM13 27h1v1h-1zM15 27h2v1h-2zM18 27h1v1h-1zM21 27h1v1h-1zM23 27h1v1h-1zM8 28h1v1h-1zM14 28h1v1h-1zM18 28h1v1h-1zM21 28h1v1h-1zM12 29h1v1h-1zM14 29h3v1h-3zM19 29h1v1h-1z"/><path fill="#f43d25" d="M13 0h1v1h-1zM16 0h1v1h-1zM10 1h1v1h-1zM12 1h1v1h-1zM15 1h2v1h-2zM12 2h1v1h-1zM14 2h2v1h-2zM21 2h1v1h-1zM9 3h3v1h-3zM16 3h1v1h-1zM18 3h1v1h-1zM20 3h1v1h-1zM23 3h1v1h-1zM5 4h2v1h-2zM11 4h1v1h-1zM14 4h1v1h-1zM16 4h4v1h-4zM22 4h1v1h-1zM24 4h1v1h-1zM3 5h2v1h-2zM8 5h1v1h-1zM10 5h1v1h-1zM12 5h1v1h-1zM15 5h1v1h-1zM21 5h1v1h-1zM25 5h1v1h-1zM3 6h2v1h-2zM8 6h2v1h-2zM11 6h4v1h-4zM19 6h2v1h-2zM26 6h1v1h-1zM5 7h1v1h-1zM7 7h1v1h-1zM11 7h1v1h-1zM14 7h2v1h-2zM17 7h1v1h-1zM19 7h2v1h-2zM23 7h1v1h-1zM25 7h1v1h-1zM27 7h1v1h-1zM1 8h1v1h-1zM10 8h2v1h-2zM13 8h1v1h-1zM16 8h1v1h-1zM19 8h1v1h-1zM25 8h3v1h-3zM3 9h1v1h-1zM5 9h1v1h-1zM7 9h3v1h-3zM12 9h1v1h-1zM15 9h3v1h-3zM19 9h1v1h-1zM21 9h1v1h-1zM28 9h1v1h-1zM2 10h1v1h-1zM5 10h1v1h-1zM8 10h2v1h-2zM15 10h2v1h-2zM18 10h2v1h-2zM21 10h1v1h-1zM25 10h1v1h-1zM3 11h1v1h-1zM6 11h2v1h-2zM9 11h1v1h-1zM18 11h1v1h-1zM20 11h1v1h-1zM25 11h1v1h-1zM0 12h1v1h-1zM2 12h1v1h-1zM6 12h1v1h-1zM8 12h3v1h-3zM12 12h3v1h-3zM16 12h2v1h-2zM26 12h1v1h-1zM28 12h2v1h-2zM0 13h1v1h-1zM3 13h2v1h-2zM22 13h1v1h-1zM26 13h2v1h-2zM0 14h2v1h-2zM5 14h1v1h-1zM8 14h1v1h-1zM14 14h1v1h-1zM16 14h1v1h-1zM18 14h2v1h-2zM21 14h1v1h-1zM23 14h3v1h-3zM27 14h1v1h-1zM1 15h1v1h-1zM4 15h1v1h-1zM6 15h1v1h-1zM9 15h1v1h-1zM11 15h1v1h-1zM14 15h1v1h-1zM16 15h1v1h-1zM25 15h2v1h-2zM7 16h1v1h-1zM9 16h2v1h-2zM13 16h2v1h-2zM16 16h2v1h-2zM19 16h2v1h-2zM24 16h2v1h-2zM2 17h3v1h-3zM6 17h2v1h-2zM9 17h1v1h-1zM11 17h2v1h-2zM15 17h1v1h-1zM20 17h1v1h-1zM24 17h1v1h-1zM26 17h1v1h-1zM28 17h2v1h-2zM4 18h1v1h-1zM8 18h1v1h-1zM10 18h1v1h-1zM16 18h1v1h-1zM20 18h1v1h-1zM22 18h1v1h-1zM25 18h1v1h-1zM28 18h1v1h-1zM1 19h2v1h-2zM5 19h1v1h-1zM7 19h1v1h-1zM9 19h2v1h-2zM12 19h4v1h-4zM18 19h2v1h-2zM24 19h1v1h-1zM1 20h1v1h-1zM4 20h1v1h-1zM19 20h2v1h-2zM27 20h1v1h-1zM12 21h1v1h-1zM14 21h3v1h-3zM18 21h1v1h-1zM24 21h2v1h-2zM3 22h2v1h-2zM8 22h2v1h-2zM13 22h2v1h-2zM16 22h1v1h-1zM18 22h1v1h-1zM20 22h1v1h-1zM23 22h1v1h-1zM3 23h1v1h-1zM5 23h1v1h-1zM7 23h1v1h-1zM13 23h2v1h-2zM17 23h3v1h-3zM23 23h1v1h-1zM6 24h1v1h-1zM8 24h1v1h-1zM10 24h2v1h-2zM13 24h1v1h-1zM15 24h2v1h-2zM19 24h2v1h-2zM23 24h1v1h-1zM26 24h1v1h-1zM7 25h2v1h-2zM10 25h1v1h-1zM15 25h1v1h-1zM20 25h1v1h-1zM23 25h2v1h-2zM6 26h1v1h-1zM10 26h2v1h-2zM13 26h3v1h-3zM18 26h1v1h-1zM7 27h1v1h-1zM12 27h1v1h-1zM14 27h1v1h-1zM17 27h1v1h-1zM19 27h2v1h-2zM22 27h1v1h-1zM9 28h2v1h-2zM15 28h2v1h-2zM19 28h2v1h-2zM11 29h1v1h-1zM13 29h1v1h-1zM17 29h1v1h-1z"/><path fill="#800026" d="M17 1h1v1h-1zM7 2h1v1h-1zM11 2h1v1h-1zM13 4h1v1h-1zM9 5h1v1h-1zM24 5h1v1h-1zM5 6h1v1h-1zM7 6h1v1h-1zM21 6h1v1h-1zM18 7h1v1h-1zM22 7h1v1h-1zM4 8h1v1h-1zM12 8h1v1h-1zM22 9h1v1h-1zM3 10h1v1h-1zM11 10h1v1h-1zM24 10h1v1h-1zM27 10h1v1h-1zM22 11h1v1h-1zM18 12h1v1h-1zM23 12h1v1h-1zM6 13h1v1h-1zM11 13h1v1h-1zM15 13h1v1h-1zM20 13h1v1h-1zM9 14h1v1h-1zM13 14h1v1h-1zM29 14h1v1h-1zM3 15h1v1h-1zM20 15h1v1h-1zM27 15h1v1h-1zM29 15h1v1h-1zM2 16h1v1h-1zM27 17h1v1h-1zM5 18h1v1h-1zM18 18h1v1h-1zM23 18h1v1h-1zM21 19h1v1h-1zM7 20h1v1h-1zM11 20h1v1h-1zM13 20h1v1h-1zM17 20h1v1h-1zM24 20h1v1h-1zM3 21h1v1h-1zM11 21h1v1h-1zM26 21h1v1h-1zM6 22h1v1h-1zM22 22h1v1h-1zM11 23h1v1h-1zM17 25h1v1h-1zM22 25h1v1h-1zM8 26h1v1h-1zM12 28h1v1h-1z"/></g>
<rect x="77.60" y="1525.40" width="355.00" height="359.80" fill="none" stroke="#000" stroke-width="5.30"/>
<line x1="87.80" y1="1885.20" x2="87.80" y2="1891.40" stroke="#000" stroke-width="1.40"/><text x="87.80" y="1911.20" font-size="17.50" text-anchor="middle">−40</text>
<line x1="172.40" y1="1885.20" x2="172.40" y2="1891.40" stroke="#000" stroke-width="1.40"/><text x="172.40" y="1911.20" font-size="17.50" text-anchor="middle">−20</text>
<line x1="257.00" y1="1885.20" x2="257.00" y2="1891.40" stroke="#000" stroke-width="1.40"/><text x="257.00" y="1911.20" font-size="17.50" text-anchor="middle">0</text>
<line x1="341.60" y1="1885.20" x2="341.60" y2="1891.40" stroke="#000" stroke-width="1.40"/><text x="341.60" y="1911.20" font-size="17.50" text-anchor="middle">20</text>
<line x1="426.20" y1="1885.20" x2="426.20" y2="1891.40" stroke="#000" stroke-width="1.40"/><text x="426.20" y="1911.20" font-size="17.50" text-anchor="middle">40</text>
<line x1="71.40" y1="1874.24" x2="77.60" y2="1874.24" stroke="#000" stroke-width="1.40"/><text x="65.50" y="1880.84" font-size="17.50" text-anchor="end">−40</text>
<line x1="71.40" y1="1831.88" x2="77.60" y2="1831.88" stroke="#000" stroke-width="1.40"/><text x="65.50" y="1838.48" font-size="17.50" text-anchor="end">−30</text>
<line x1="71.40" y1="1789.52" x2="77.60" y2="1789.52" stroke="#000" stroke-width="1.40"/><text x="65.50" y="1796.12" font-size="17.50" text-anchor="end">−20</text>
<line x1="71.40" y1="1747.16" x2="77.60" y2="1747.16" stroke="#000" stroke-width="1.40"/><text x="65.50" y="1753.76" font-size="17.50" text-anchor="end">−10</text>
<line x1="71.40" y1="1704.80" x2="77.60" y2="1704.80" stroke="#000" stroke-width="1.40"/><text x="65.50" y="1711.40" font-size="17.50" text-anchor="end">0</text>
<line x1="71.40" y1="1662.44" x2="77.60" y2="1662.44" stroke="#000" stroke-width="1.40"/><text x="65.50" y="1669.04" font-size="17.50" text-anchor="end">10</text>
<line x1="71.40" y1="1620.08" x2="77.60" y2="1620.08" stroke="#000" stroke-width="1.40"/><text x="65.50" y="1626.68" font-size="17.50" text-anchor="end">20</text>
<line x1="71.40" y1="1577.72" x2="77.60" y2="1577.72" stroke="#000" stroke-width="1.40"/><text x="65.50" y="1584.32" font-size="17.50" text-anchor="end">30</text>
<line x1="71.40" y1="1535.36" x2="77.60" y2="1535.36" stroke="#000" stroke-width="1.40"/><text x="65.50" y="1541.96" font-size="17.50" text-anchor="end">40</text>
<text x="255.10" y="1514.70" font-size="22.75" text-anchor="middle">b=N, No. of matrices=1</text>
<text x="255.10" y="1938.70" font-size="22.75" text-anchor="middle">Re z</text>
<text transform="translate(16.50,1705.30) rotate(-90)" font-size="22.75" text-anchor="middle">Im z</text>
<rect x="454.60" y="1467.50" width="24.10" height="475.50" fill="url(#g)" stroke="#000" stroke-width="5.30"/>
<line x1="478.70" y1="1943.00" x2="484.90" y2="1943.00" stroke="#000" stroke-width="1.40"/><text x="490.20" y="1949.80" font-size="17.50">0.0</text>
<line x1="478.70" y1="1863.75" x2="484.90" y2="1863.75" stroke="#000" stroke-width="1.40"/><text x="490.20" y="1870.55" font-size="17.50">0.5</text>
<line x1="478.70" y1="1784.50" x2="484.90" y2="1784.50" stroke="#000" stroke-width="1.40"/><text x="490.20" y="1791.30" font-size="17.50">1.0</text>
<line x1="478.70" y1="1705.25" x2="484.90" y2="1705.25" stroke="#000" stroke-width="1.40"/><text x="490.20" y="1712.05" font-size="17.50">1.5</text>
<line x1="478.70" y1="1626.00" x2="484.90" y2="1626.00" stroke="#000" stroke-width="1.40"/><text x="490.20" y="1632.80" font-size="17.50">2.0</text>
<line x1="478.70" y1="1546.75" x2="484.90" y2="1546.75" stroke="#000" stroke-width="1.40"/><text x="490.20" y="1553.55" font-size="17.50">2.5</text>
<line x1="478.70" y1="1467.50" x2="484.90" y2="1467.50" stroke="#000" stroke-width="1.40"/><text x="490.20" y="1474.30" font-size="17.50">3.0</text>
</g>
<g>
<rect x="610.30" y="1525.40" width="355.00" height="359.80" fill="#ffffcc"/>
<g transform="translate(610.30 1525.40) scale(11.8333 11.9933)" shape-rendering="crispEdges"><path fill="#ffefa5" d="M19 0h2v1h-2zM8 1h1v1h-1zM21 1h1v1h-1zM5 3h1v1h-1zM24 3h1v1h-1zM4 4h1v1h-1zM26 4h1v1h-1zM1 7h1v1h-1zM28 7h1v1h-1zM29 9h1v1h-1zM0 10h2v1h-2zM0 12h1v1h-1zM27 12h1v1h-1zM7 19h1v1h-1zM0 20h1v1h-1zM10 20h1v1h-1zM1 21h1v1h-1zM28 21h1v1h-1zM4 24h1v1h-1zM6 25h1v1h-1zM26 25h1v1h-1zM4 26h1v1h-1zM19 26h1v1h-1zM6 27h1v1h-1zM7 28h2v1h-2zM10 29h1v1h-1zM19 29h1v1h-1z"/><path fill="#fedd7f" d="M10 0h3v1h-3zM9 1h1v1h-1zM11 1h1v1h-1zM6 2h1v1h-1zM23 2h1v1h-1zM6 5h1v1h-1zM9 6h1v1h-1zM17 6h1v1h-1zM22 6h1v1h-1zM27 6h1v1h-1zM6 8h1v1h-1zM9 8h1v1h-1zM14 8h1v1h-1zM23 8h1v1h-1zM28 8h1v1h-1zM8 9h1v1h-1zM8 10h1v1h-1zM14 10h1v1h-1zM28 10h1v1h-1zM0 11h1v1h-1zM4 12h1v1h-1zM8 12h1v1h-1zM12 13h1v1h-1zM16 13h1v1h-1zM6 14h1v1h-1zM2 15h1v1h-1zM7 15h2v1h-2zM15 15h1v1h-1zM3 16h1v1h-1zM22 16h2v1h-2zM27 16h1v1h-1zM13 17h1v1h-1zM16 17h1v1h-1zM18 17h1v1h-1zM20 19h1v1h-1zM26 19h1v1h-1zM29 19h1v1h-1zM18 20h1v1h-1zM9 21h1v1h-1zM22 21h1v1h-1zM19 22h1v1h-1zM28 22h1v1h-1zM3 23h1v1h-1zM3 24h1v1h-1zM21 25h1v1h-1zM5 26h1v1h-1zM7 27h1v1h-1zM20 27h1v1h-1zM23 27h1v1h-1zM11 28h1v1h-1zM17 28h1v1h-1zM20 28h1v1h-1zM13 29h1v1h-1zM15 29h2v1h-2zM18 29h1v1h-1z"/><path fill="#febf5a" d="M13 0h1v1h-1zM17 0h2v1h-2zM14 1h1v1h-1zM18 1h1v1h-1zM7 2h1v1h-1zM9 2h1v1h-1zM14 2h1v1h-1zM16 2h1v1h-1zM18 2h1v1h-1zM20 2h1v1h-1zM22 2h1v1h-1zM7 3h1v1h-1zM13 3h1v1h-1zM17 3h1v1h-1zM19 3h1v1h-1zM22 3h1v1h-1zM11 4h1v1h-1zM15 4h2v1h-2zM20 4h1v1h-1zM3 5h1v1h-1zM11 5h1v1h-1zM14 5h1v1h-1zM18 5h2v1h-2zM22 5h2v1h-2zM26 5h1v1h-1zM12 6h1v1h-1zM15 6h1v1h-1zM18 6h1v1h-1zM25 6h1v1h-1zM3 7h2v1h-2zM6 7h1v1h-1zM15 7h2v1h-2zM19 7h1v1h-1zM24 7h1v1h-1zM1 8h1v1h-1zM3 8h1v1h-1zM5 8h1v1h-1zM17 8h1v1h-1zM20 8h1v1h-1zM22 8h1v1h-1zM26 8h1v1h-1zM1 9h2v1h-2zM4 9h1v1h-1zM11 9h1v1h-1zM13 9h2v1h-2zM23 9h1v1h-1zM25 9h1v1h-1zM7 10h1v1h-1zM10 10h1v1h-1zM12 10h1v1h-1zM17 10h1v1h-1zM23 10h1v1h-1zM26 10h1v1h-1zM6 11h1v1h-1zM12 11h1v1h-1zM23 11h2v1h-2zM29 11h1v1h-1zM3 12h1v1h-1zM19 12h1v1h-1zM22 12h1v1h-1zM26 12h1v1h-1zM28 12h1v1h-1zM1 13h1v1h-1zM4 13h1v1h-1zM7 13h2v1h-2zM10 13h1v1h-1zM13 13h1v1h-1zM17 13h1v1h-1zM24 13h1v1h-1zM2 14h1v1h-1zM7 14h1v1h-1zM15 14h1v1h-1zM22 14h1v1h-1zM25 14h2v1h-2zM28 14h1v1h-1zM5 15h1v1h-1zM13 15h1v1h-1zM21 15h1v1h-1zM0 16h1v1h-1zM5 16h2v1h-2zM19 16h1v1h-1zM29 16h1v1h-1zM0 17h1v1h-1zM10 17h1v1h-1zM23 17h1v1h-1zM25 17h1v1h-1zM0 18h1v1h-1zM12 18h3v1h-3zM27 18h1v1h-1zM29 18h1v1h-1zM5 19h1v1h-1zM8 19h1v1h-1zM10 19h1v1h-1zM23 19h1v1h-1zM25 19h1v1h-1zM28 19h1v1h-1zM3 20h2v1h-2zM7 20h1v1h-1zM9 20h1v1h-1zM14 20h2v1h-2zM23 20h1v1h-1zM4 21h2v1h-2zM11 21h1v1h-1zM16 21h2v1h-2zM25 21h1v1h-1zM27 21h1v1h-1zM2 22h1v1h-1zM13 22h1v1h-1zM20 22h1v1h-1zM25 22h1v1h-1zM27 22h1v1h-1zM6 23h1v1h-1zM9 23h1v1h-1zM12 23h2v1h-2zM15 23h1v1h-1zM18 23h1v1h-1zM22 23h2v1h-2zM10 24h1v1h-1zM12 24h1v1h-1zM14 24h1v1h-1zM16 24h1v1h-1zM18 24h1v1h-1zM23 24h1v1h-1zM26 24h1v1h-1zM5 25h1v1h-1zM9 25h1v1h-1zM12 25h1v1h-1zM25 25h1v1h-1zM12 26h1v1h-1zM17 26h1v1h-1zM23 26h1v1h-1zM13 27h2v1h-2zM16 27h1v1h-1zM22 27h1v1h-1zM9 28h2v1h-2zM19 28h1v1h-1zM21 28h1v1h-1zM11 29h1v1h-1zM14 29h1v1h-1z"/><path fill="#fd9d43" d="M14 0h2v1h-2zM13 1h1v1h-1zM15 1h1v1h-1zM19 1h2v1h-2zM12 2h2v1h-2zM21 2h1v1h-1zM8 3h2v1h-2zM12 3h1v1h-1zM14 3h3v1h-3zM18 3h1v1h-1zM5 4h1v1h-1zM9 4h2v1h-2zM12 4h1v1h-1zM18 4h1v1h-1zM22 4h1v1h-1zM25 4h1v1h-1zM7 5h1v1h-1zM10 5h1v1h-1zM15 5h1v1h-1zM21 5h1v1h-1zM25 5h1v1h-1zM4 6h2v1h-2zM20 6h1v1h-1zM2 7h1v1h-1zM7 7h4v1h-4zM20 7h2v1h-2zM26 7h1v1h-1zM7 8h2v1h-2zM11 8h1v1h-1zM3 9h1v1h-1zM5 9h2v1h-2zM17 9h1v1h-1zM20 9h2v1h-2zM24 9h1v1h-1zM26 9h1v1h-1zM28 9h1v1h-1zM5 10h1v1h-1zM16 10h1v1h-1zM18 10h1v1h-1zM22 10h1v1h-1zM25 10h1v1h-1zM29 10h1v1h-1zM5 11h1v1h-1zM8 11h1v1h-1zM10 11h2v1h-2zM13 11h1v1h-1zM15 11h1v1h-1zM17 11h1v1h-1zM21 11h1v1h-1zM5 12h1v1h-1zM10 12h1v1h-1zM12 12h1v1h-1zM15 12h1v1h-1zM18 12h1v1h-1zM20 12h2v1h-2zM25 12h1v1h-1zM29 12h1v1h-1zM2 13h1v1h-1zM9 13h1v1h-1zM14 13h1v1h-1zM19 13h2v1h-2zM22 13h2v1h-2zM1 14h1v1h-1zM4 14h1v1h-1zM10 14h2v1h-2zM16 14h1v1h-1zM18 14h1v1h-1zM21 14h1v1h-1zM23 14h1v1h-1zM4 15h1v1h-1zM11 15h2v1h-2zM17 15h2v1h-2zM24 15h1v1h-1zM28 15h1v1h-1zM1 16h1v1h-1zM10 16h1v1h-1zM15 16h2v1h-2zM20 16h1v1h-1zM28 16h1v1h-1zM1 17h3v1h-3zM5 17h2v1h-2zM8 17h1v1h-1zM12 17h1v1h-1zM14 17h1v1h-1zM17 17h1v1h-1zM24 17h1v1h-1zM26 17h1v1h-1zM28 17h1v1h-1zM2 18h3v1h-3zM6 18h3v1h-3zM11 18h1v1h-1zM15 18h1v1h-1zM18 18h3v1h-3zM26 18h1v1h-1zM28 18h1v1h-1zM1 19h1v1h-1zM4 19h1v1h-1zM6 19h1v1h-1zM15 19h1v1h-1zM17 19h1v1h-1zM19 19h1v1h-1zM21 19h1v1h-1zM1 20h2v1h-2zM6 20h1v1h-1zM12 20h1v1h-1zM17 20h1v1h-1zM21 20h2v1h-2zM26 20h1v1h-1zM28 20h1v1h-1zM6 21h1v1h-1zM8 21h1v1h-1zM13 21h1v1h-1zM15 21h1v1h-1zM20 21h2v1h-2zM3 22h1v1h-1zM7 22h1v1h-1zM9 22h1v1h-1zM12 22h1v1h-1zM14 22h2v1h-2zM21 22h1v1h-1zM26 22h1v1h-1zM7 23h1v1h-1zM27 23h1v1h-1zM8 24h1v1h-1zM11 24h1v1h-1zM22 24h1v1h-1zM24 24h2v1h-2zM4 25h1v1h-1zM7 25h1v1h-1zM11 25h1v1h-1zM13 25h1v1h-1zM18 25h1v1h-1zM24 25h1v1h-1zM7 26h2v1h-2zM13 26h1v1h-1zM16 26h1v1h-1zM21 26h2v1h-2zM24 26h1v1h-1zM9 27h1v1h-1zM18 27h1v1h-1zM14 28h1v1h-1zM16 28h1v1h-1zM12 29h1v1h-1z"/><path fill="#fd7134" d="M16 0h1v1h-1zM8 2h1v1h-1zM11 2h1v1h-1zM15 2h1v1h-1zM17 2h1v1h-1zM19 2h1v1h-1zM6 3h1v1h-1zM11 3h1v1h-1zM21 3h1v1h-1zM7 4h2v1h-2zM21 4h1v1h-1zM23 4h1v1h-1zM4 5h1v1h-1zM8 5h1v1h-1zM12 5h2v1h-2zM17 5h1v1h-1zM20 5h1v1h-1zM24 5h1v1h-1zM3 6h1v1h-1zM8 6h1v1h-1zM10 6h2v1h-2zM13 6h2v1h-2zM16 6h1v1h-1zM19 6h1v1h-1zM24 6h1v1h-1zM11 7h3v1h-3zM27 7h1v1h-1zM12 8h1v1h-1zM15 8h2v1h-2zM18 8h2v1h-2zM24 8h1v1h-1zM27 8h1v1h-1zM10 9h1v1h-1zM12 9h1v1h-1zM16 9h1v1h-1zM18 9h2v1h-2zM2 10h3v1h-3zM6 10h1v1h-1zM13 10h1v1h-1zM15 10h1v1h-1zM20 10h1v1h-1zM27 10h1v1h-1zM1 11h2v1h-2zM7 11h1v1h-1zM14 11h1v1h-1zM16 11h1v1h-1zM18 11h3v1h-3zM25 11h2v1h-2zM28 11h1v1h-1zM6 12h1v1h-1zM9 12h1v1h-1zM11 12h1v1h-1zM14 12h1v1h-1zM16 12h2v1h-2zM23 12h1v1h-1zM0 13h1v1h-1zM3 13h1v1h-1zM5 13h1v1h-1zM25 13h1v1h-1zM27 13h3v1h-3zM0 14h1v1h-1zM3 14h1v1h-1zM9 14h1v1h-1zM12 14h2v1h-2zM19 14h2v1h-2zM0 15h2v1h-2zM9 15h2v1h-2zM14 15h1v1h-1zM19 15h1v1h-1zM22 15h1v1h-1zM26 15h1v1h-1zM29 15h1v1h-1zM4 16h1v1h-1zM8 16h2v1h-2zM12 16h1v1h-1zM17 16h2v1h-2zM25 16h2v1h-2zM11 17h1v1h-1zM15 17h1v1h-1zM27 17h1v1h-1zM1 18h1v1h-1zM9 18h1v1h-1zM17 18h1v1h-1zM21 18h3v1h-3zM25 18h1v1h-1zM2 19h1v1h-1zM9 19h1v1h-1zM12 19h1v1h-1zM16 19h1v1h-1zM5 20h1v1h-1zM13 20h1v1h-1zM16 20h1v1h-1zM20 20h1v1h-1zM24 20h2v1h-2zM2 21h1v1h-1zM7 21h1v1h-1zM12 21h1v1h-1zM19 21h1v1h-1zM23 21h2v1h-2zM4 22h1v1h-1zM8 22h1v1h-1zM11 22h1v1h-1zM17 22h2v1h-2zM23 22h2v1h-2zM5 23h1v1h-1zM8 23h1v1h-1zM10 23h1v1h-1zM16 23h1v1h-1zM21 23h1v1h-1zM24 23h1v1h-1zM26 23h1v1h-1zM5 24h3v1h-3zM9 24h1v1h-1zM19 24h2v1h-2zM8 25h1v1h-1zM10 25h1v1h-1zM15 25h3v1h-3zM19 25h2v1h-2zM23 25h1v1h-1zM6 26h1v1h-1zM9 26h3v1h-3zM14 26h1v1h-1zM10 27h1v1h-1zM12 27h1v1h-1zM15 27h1v1h-1zM17 27h1v1h-1zM12 28h1v1h-1zM15 28h1v1h-1zM18 28h1v1h-1z"/><path fill="#f43d25" d="M10 1h1v1h-1zM12 1h1v1h-1zM10 3h1v1h-1zM6 4h1v1h-1zM13 4h2v1h-2zM17 4h1v1h-1zM19 4h1v1h-1zM24 4h1v1h-1zM5 5h1v1h-1zM9 5h1v1h-1zM16 5h1v1h-1zM7 6h1v1h-1zM21 6h1v1h-1zM23 6h1v1h-1zM26 6h1v1h-1zM5 7h1v1h-1zM17 7h1v1h-1zM22 7h2v1h-2zM25 7h1v1h-1zM2 8h1v1h-1zM4 8h1v1h-1zM10 8h1v1h-1zM21 8h1v1h-1zM25 8h1v1h-1zM7 9h1v1h-1zM9 9h1v1h-1zM22 9h1v1h-1zM27 9h1v1h-1zM19 10h1v1h-1zM21 10h1v1h-1zM3 11h2v1h-2zM9 11h1v1h-1zM27 11h1v1h-1zM1 12h2v1h-2zM13 12h1v1h-1zM24 12h1v1h-1zM15 13h1v1h-1zM18 13h1v1h-1zM21 13h1v1h-1zM26 13h1v1h-1zM8 14h1v1h-1zM17 14h1v1h-1zM24 14h1v1h-1zM27 14h1v1h-1zM3 15h1v1h-1zM20 15h1v1h-1zM25 15h1v1h-1zM2 16h1v1h-1zM7 16h1v1h-1zM11 16h1v1h-1zM14 16h1v1h-1zM21 16h1v1h-1zM24 16h1v1h-1zM7 17h1v1h-1zM19 17h1v1h-1zM22 17h1v1h-1zM10 18h1v1h-1zM16 18h1v1h-1zM24 18h1v1h-1zM3 19h1v1h-1zM18 19h1v1h-1zM22 19h1v1h-1zM24 19h1v1h-1zM8 20h1v1h-1zM19 20h1v1h-1zM27 20h1v1h-1zM3 21h1v1h-1zM10 21h1v1h-1zM18 21h1v1h-1zM26 21h1v1h-1zM5 22h1v1h-1zM10 22h1v1h-1zM16 22h1v1h-1zM17 23h1v1h-1zM25 23h1v1h-1zM13 24h1v1h-1zM15 24h1v1h-1zM17 24h1v1h-1zM21 24h1v1h-1zM14 25h1v1h-1zM15 26h1v1h-1zM18 26h1v1h-1zM20 26h1v1h-1zM8 27h1v1h-1zM11 27h1v1h-1zM21 27h1v1h-1zM13 28h1v1h-1zM17 29h1v1h-1z"/><path fill="#db141e" d="M16 1h2v1h-2zM10 2h1v1h-1zM20 3h1v1h-1zM23 3h1v1h-1zM14 7h1v1h-1zM18 7h1v1h-1zM13 8h1v1h-1zM9 10h1v1h-1zM11 10h1v1h-1zM24 10h1v1h-1zM22 11h1v1h-1zM7 12h1v1h-1zM11 13h1v1h-1zM5 14h1v1h-1zM14 14h1v1h-1zM6 15h1v1h-1zM16 15h1v1h-1zM23 15h1v1h-1zM27 15h1v1h-1zM13 16h1v1h-1zM4 17h1v1h-1zM9 17h1v1h-1zM29 17h1v1h-1zM5 18h1v1h-1zM11 19h1v1h-1zM13 19h2v1h-2zM11 20h1v1h-1zM14 21h1v1h-1zM22 22h1v1h-1zM11 23h1v1h-1zM14 23h1v1h-1zM19 27h1v1h-1z"/><path fill="#b60026" d="M6 6h1v1h-1zM15 9h1v1h-1zM6 13h1v1h-1zM29 14h1v1h-1zM6 22h1v1h-1zM4 23h1v1h-1zM19 23h1v1h-1zM22 25h1v1h-1z"/><path fill="#800026" d="M20 17h1v1h-1zM27 19h1v1h-1z"/></g>
<rect x="610.30" y="1525.40" width="355.00" height="359.80" fill="none" stroke="#000" stroke-width="5.30"/>
<line x1="620.50" y1="1885.20" x2="620.50" y2="1891.40" stroke="#000" stroke-width="1.40"/><text x="620.50" y="1911.20" font-size="17.50" text-anchor="middle">−40</text>
<line x1="705.10" y1="1885.20" x2="705.10" y2="1891.40" stroke="#000" stroke-width="1.40"/><text x="705.10" y="1911.20" font-size="17.50" text-anchor="middle">−20</text>
<line x1="789.70" y1="1885.20" x2="789.70" y2="1891.40" stroke="#000" stroke-width="1.40"/><text x="789.70" y="1911.20" font-size="17.50" text-anchor="middle">0</text>
<line x1="874.30" y1="1885.20" x2="874.30" y2="1891.40" stroke="#000" stroke-width="1.40"/><text x="874.30" y="1911.20" font-size="17.50" text-anchor="middle">20</text>
<line x1="958.90" y1="1885.20" x2="958.90" y2="1891.40" stroke="#000" stroke-width="1.40"/><text x="958.90" y="1911.20" font-size="17.50" text-anchor="middle">40</text>
<line x1="604.10" y1="1874.24" x2="610.30" y2="1874.24" stroke="#000" stroke-width="1.40"/><text x="598.20" y="1880.84" font-size="17.50" text-anchor="end">−40</text>
<line x1="604.10" y1="1831.88" x2="610.30" y2="1831.88" stroke="#000" stroke-width="1.40"/><text x="598.20" y="1838.48" font-size="17.50" text-anchor="end">−30</text>
<line x1="604.10" y1="1789.52" x2="610.30" y2="1789.52" stroke="#000" stroke-width="1.40"/><text x="598.20" y="1796.12" font-size="17.50" text-anchor="end">−20</text>
<line x1="604.10" y1="1747.16" x2="610.30" y2="1747.16" stroke="#000" stroke-width="1.40"/><text x="598.20" y="1753.76" font-size="17.50" text-anchor="end">−10</text>
<line x1="604.10" y1="1704.80" x2="610.30" y2="1704.80" stroke="#000" stroke-width="1.40"/><text x="598.20" y="1711.40" font-size="17.50" text-anchor="end">0</text>
<line x1="604.10" y1="1662.44" x2="610.30" y2="1662.44" stroke="#000" stroke-width="1.40"/><text x="598.20" y="1669.04" font-size="17.50" text-anchor="end">10</text>
<line x1="604.10" y1="1620.08" x2="610.30" y2="1620.08" stroke="#000" stroke-width="1.40"/><text x="598.20" y="1626.68" font-size="17.50" text-anchor="end">20</text>
<line x1="604.10" y1="1577.72" x2="610.30" y2="1577.72" stroke="#000" stroke-width="1.40"/><text x="598.20" y="1584.32" font-size="17.50" text-anchor="end">30</text>
<line x1="604.10" y1="1535.36" x2="610.30" y2="1535.36" stroke="#000" stroke-width="1.40"/><text x="598.20" y="1541.96" font-size="17.50" text-anchor="end">40</text>
<text x="787.80" y="1514.70" font-size="22.75" text-anchor="middle">b=N, No. of matrices=3</text>
<text x="787.80" y="1938.70" font-size="22.75" text-anchor="middle">Re z</text>
<rect x="987.30" y="1467.50" width="24.10" height="475.50" fill="url(#g)" stroke="#000" stroke-width="5.30"/>
<line x1="1011.40" y1="1943.00" x2="1017.60" y2="1943.00" stroke="#000" stroke-width="1.40"/><text x="1022.90" y="1949.80" font-size="17.50">0.0</text>
<line x1="1011.40" y1="1863.75" x2="1017.60" y2="1863.75" stroke="#000" stroke-width="1.40"/><text x="1022.90" y="1870.55" font-size="17.50">0.5</text>
<line x1="1011.40" y1="1784.50" x2="1017.60" y2="1784.50" stroke="#000" stroke-width="1.40"/><text x="1022.90" y="1791.30" font-size="17.50">1.0</text>
<line x1="1011.40" y1="1705.25" x2="1017.60" y2="1705.25" stroke="#000" stroke-width="1.40"/><text x="1022.90" y="1712.05" font-size="17.50">1.5</text>
<line x1="1011.40" y1="1626.00" x2="1017.60" y2="1626.00" stroke="#000" stroke-width="1.40"/><text x="1022.90" y="1632.80" font-size="17.50">2.0</text>
<line x1="1011.40" y1="1546.75" x2="1017.60" y2="1546.75" stroke="#000" stroke-width="1.40"/><text x="1022.90" y="1553.55" font-size="17.50">2.5</text>
<line x1="1011.40" y1="1467.50" x2="1017.60" y2="1467.50" stroke="#000" stroke-width="1.40"/><text x="1022.90" y="1474.30" font-size="17.50">3.0</text>
</g>
</svg>
</body></html>
